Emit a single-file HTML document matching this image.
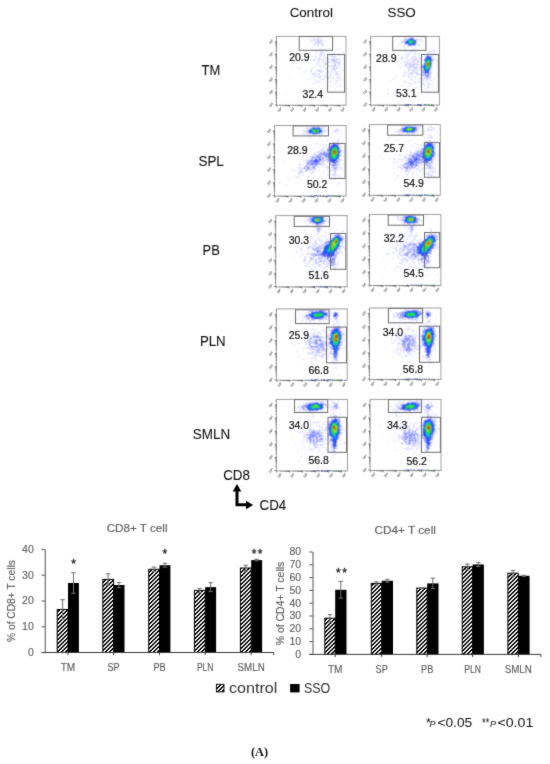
<!DOCTYPE html>
<html><head><meta charset="utf-8"><style>
html,body{margin:0;padding:0;background:#fff;}
body{width:550px;height:764px;overflow:hidden;position:relative;}
svg{position:absolute;left:0;top:0;}
text{font-family:"Liberation Sans",sans-serif;}
.pct{font-size:10.3px;fill:#111;stroke:#111;stroke-width:0.18px;}
.hdr{font-size:13.4px;fill:#111;stroke:#111;stroke-width:0.08px;}
.rl{font-size:14px;fill:#111;stroke:#111;stroke-width:0.08px;}
.tl{font-size:10.5px;fill:#5a5a5a;stroke:#5a5a5a;stroke-width:0.12px;}
.xl{font-size:10px;fill:#5a5a5a;stroke:#5a5a5a;stroke-width:0.12px;}
.star{font-size:12px;fill:#222;stroke:#222;stroke-width:0.3px;}
.ttl{font-size:10.4px;fill:#5a5a5a;stroke:#5a5a5a;stroke-width:0.12px;}
.yl{font-size:10.2px;fill:#5a5a5a;stroke:#5a5a5a;stroke-width:0.12px;}
.leg{font-size:14.5px;fill:#333;}
.pv{font-size:12.4px;fill:#111;}
.fa{font-family:"Liberation Serif",serif;font-size:13.3px;font-weight:bold;fill:#151515;}
</style></head><body>
<svg width="550" height="764" viewBox="0 0 550 764">
<defs>
<filter id="gb" x="0" y="0" width="550" height="764" filterUnits="userSpaceOnUse" color-interpolation-filters="sRGB"><feConvolveMatrix order="3" kernelMatrix="0.15 0.6 0.15 0.6 5.5 0.6 0.15 0.6 0.15" edgeMode="duplicate"/></filter>
<filter id="bl" x="-5%" y="-5%" width="110%" height="110%" color-interpolation-filters="sRGB"><feConvolveMatrix order="3" kernelMatrix="0.3 1 0.3 1 3 1 0.3 1 0.3" edgeMode="none"/></filter>
<pattern id="hatch" patternUnits="userSpaceOnUse" x="0" y="0" width="4" height="4">
<rect width="4" height="4" fill="#fff"/><path d="M0 4L4 0V2L2 4ZM0 0V2L2 0Z" fill="#000" shape-rendering="crispEdges"/></pattern>
</defs>
<g filter="url(#gb)">
<rect width="550" height="764" fill="#fff"/>
<text x="289.7" y="16.8" class="hdr" textLength="43.2" lengthAdjust="spacingAndGlyphs">Control</text>
<text x="387.5" y="16.8" class="hdr" textLength="28.3" lengthAdjust="spacingAndGlyphs">SSO</text>
<text x="201.6" y="74.6" class="rl" textLength="18.7" lengthAdjust="spacingAndGlyphs">TM</text>
<text x="198.5" y="166.4" class="rl" textLength="25.3" lengthAdjust="spacingAndGlyphs">SPL</text>
<text x="202.6" y="255.1" class="rl" textLength="17.3" lengthAdjust="spacingAndGlyphs">PB</text>
<text x="199.9" y="345.7" class="rl" textLength="25.8" lengthAdjust="spacingAndGlyphs">PLN</text>
<text x="192.8" y="439.2" class="rl" textLength="37.3" lengthAdjust="spacingAndGlyphs">SMLN</text>
<g filter="url(#bl)">
<path transform="translate(0 .5)" stroke="rgb(125,130,250)" stroke-opacity="0.36000000000000004" stroke-width="1" d="M309 37h1M317 37h3M321 37h1M307 38h1M313 38h2M318 38h1M320 38h1M313 39h2M310 40h3M314 40h1M321 40h2M321 41h1M325 41h1M312 42h1M319 42h1M321 42h1M316 43h5M322 43h1M329 43h1M313 44h3M317 44h1M321 44h2M318 45h1M321 45h1M323 45h1M316 46h1M318 46h1M312 47h1M320 48h1M339 48h1M319 49h1M321 49h1M325 49h1M336 49h1M315 50h2M320 51h2M316 52h2M321 52h1M323 52h1M343 52h1M322 53h2M329 53h1M334 53h1M338 53h1M320 54h2M324 54h1M332 54h1M334 54h1M342 54h1M315 55h1M319 55h2M322 55h1M324 55h1M330 55h3M339 55h1M312 56h1M315 56h1M320 56h1M323 56h1M331 56h1M333 56h3M300 57h1M316 57h1M319 57h1M325 57h1M332 57h4M318 58h1M320 58h1M325 58h2M328 58h2M336 58h1M340 58h1M301 59h1M313 59h1M315 59h1M318 59h2M321 59h1M323 59h1M330 59h2M338 59h2M343 59h1M310 60h1M313 60h2M318 60h1M322 60h2M325 60h1M328 60h1M339 60h1M294 61h1M306 61h1M310 61h1M317 61h1M319 61h1M324 61h1M328 61h1M330 61h1M319 62h1M322 62h1M325 62h1M328 62h2M337 62h1M339 62h2M307 63h1M317 63h1M324 63h4M339 63h1M343 63h1M292 64h1M300 64h1M317 64h1M324 64h1M339 64h1M319 65h1M331 65h1M316 66h1M324 66h1M329 66h1M338 66h2M312 67h1M320 67h1M327 67h1M341 67h1M298 68h1M300 68h1M321 68h1M325 68h1M338 68h1M306 69h1M311 69h1M343 69h1M310 70h2M316 70h2M319 70h1M322 70h1M327 70h1M331 70h1M304 71h1M311 71h1M321 71h2M328 71h1M339 71h1M342 71h1M315 72h1M328 72h1M331 72h2M335 72h2M301 73h1M311 73h2M314 73h2M318 73h1M325 73h2M330 73h1M336 73h2M313 74h2M318 74h2M330 74h1M334 74h5M315 75h1M318 75h2M322 75h1M326 75h1M330 75h1M339 75h1M314 76h1M316 76h1M320 76h1M324 76h3M336 76h1M310 77h1M313 77h1M318 77h3M327 77h3M337 77h2M340 77h1M290 78h1M323 78h1M327 78h2M332 78h2M338 78h2M308 79h1M314 79h1M320 79h1M322 79h1M324 79h1M341 79h1M314 80h1M319 80h1M330 80h1M336 80h2M339 80h1M316 81h2M324 81h1M329 81h1M334 81h1M336 81h1M316 82h1M319 82h1M330 82h1M344 82h1M314 83h1M319 83h1M325 83h1M335 83h1M338 83h1M313 84h1M335 84h1M307 85h1M340 85h1M330 86h1M337 86h1M342 86h1M315 88h1M335 89h1M320 91h1M318 92h1M285 94h1M329 98h1M312 104h1"/>
<path transform="translate(0 .5)" stroke="rgb(125,130,250)" stroke-opacity="0.63" stroke-width="1" d="M316 39h1M318 39h1M317 40h2M320 40h1M315 41h1M317 41h1M319 41h1M315 42h1M318 42h1M320 53h1M332 59h3M336 59h1M332 60h3M336 60h1M333 61h1M335 61h1M332 62h1M335 62h2M338 62h1M334 63h1M338 63h1M325 64h1M335 64h1M320 65h1M328 65h1M333 65h3M337 65h1M323 66h1M330 66h1M334 66h1M332 67h2M336 67h1M326 68h1M334 68h1M336 68h1M331 69h1M333 69h2M318 70h1M334 70h1M319 71h2M326 71h1M336 71h1"/>
</g>
<rect x="276.5" y="36.4" width="69.5" height="68.8" fill="none" stroke="#a0a0a0" stroke-width="1"/>
<rect x="299.2" y="36.5" width="33.4" height="13.8" fill="none" stroke="#707070" stroke-width="1"/>
<rect x="327.6" y="54.5" width="17.0" height="37.7" fill="none" stroke="#707070" stroke-width="1"/>
<path d="M274.7 104.8h1.8M275.6 101.0h0.9M275.6 98.7h0.9M275.6 97.2h0.9M275.6 96.0h0.9M275.6 95.1h0.9M275.6 94.3h0.9M275.6 93.7h0.9M275.6 93.2h0.9M275.6 92.7h0.9M274.7 92.2h1.8M275.6 88.4h0.9M275.6 86.1h0.9M275.6 84.6h0.9M275.6 83.3h0.9M275.6 82.5h0.9M275.6 81.7h0.9M275.6 81.1h0.9M275.6 80.6h0.9M275.6 80.1h0.9M274.7 79.6h1.8M275.6 75.8h0.9M275.6 73.5h0.9M275.6 72.0h0.9M275.6 70.7h0.9M275.6 69.8h0.9M275.6 69.1h0.9M275.6 68.4h0.9M275.6 67.9h0.9M275.6 67.4h0.9M274.7 66.9h1.8M275.6 63.1h0.9M275.6 60.9h0.9M275.6 59.4h0.9M275.6 58.1h0.9M275.6 57.2h0.9M275.6 56.4h0.9M275.6 55.8h0.9M275.6 55.3h0.9M275.6 54.8h0.9M274.7 54.3h1.8M275.6 50.5h0.9M275.6 48.2h0.9M275.6 46.7h0.9M275.6 45.5h0.9M275.6 44.6h0.9M275.6 43.8h0.9M275.6 43.2h0.9M275.6 42.7h0.9M275.6 42.2h0.9M274.7 41.7h1.8M275.6 37.9h0.9M276.8 105.2v1.8M280.6 105.2v0.9M282.9 105.2v0.9M284.4 105.2v0.9M285.6 105.2v0.9M286.5 105.2v0.9M287.3 105.2v0.9M287.9 105.2v0.9M288.4 105.2v0.9M288.9 105.2v0.9M289.4 105.2v1.8M293.2 105.2v0.9M295.5 105.2v0.9M297.0 105.2v0.9M298.2 105.2v0.9M299.1 105.2v0.9M299.9 105.2v0.9M300.5 105.2v0.9M301.0 105.2v0.9M301.5 105.2v0.9M302.0 105.2v1.8M305.8 105.2v0.9M308.1 105.2v0.9M309.6 105.2v0.9M310.9 105.2v0.9M311.7 105.2v0.9M312.5 105.2v0.9M313.1 105.2v0.9M313.6 105.2v0.9M314.1 105.2v0.9M314.6 105.2v1.8M318.4 105.2v0.9M320.7 105.2v0.9M322.2 105.2v0.9M323.5 105.2v0.9M324.4 105.2v0.9M325.1 105.2v0.9M325.7 105.2v0.9M326.2 105.2v0.9M326.8 105.2v0.9M327.3 105.2v1.8M331.0 105.2v0.9M333.3 105.2v0.9M334.8 105.2v0.9M336.1 105.2v0.9M337.0 105.2v0.9M337.7 105.2v0.9M338.4 105.2v0.9M338.9 105.2v0.9M339.4 105.2v0.9M339.9 105.2v1.8M343.7 105.2v0.9" stroke="#444" stroke-width="0.6" fill="none"/>
<g font-size="3.3" fill="#444" font-weight="bold" font-family="Liberation Sans, sans-serif"><text x="271.2" y="106.0" text-anchor="middle" transform="rotate(-45 271.2 105.0)">10<tspan dy="-1" font-size="2.2">0</tspan></text><text x="279.8" y="110.8" text-anchor="middle" transform="rotate(-45 279.8 109.8)">10<tspan dy="-1" font-size="2.2">0</tspan></text><text x="271.2" y="93.4" text-anchor="middle" transform="rotate(-45 271.2 92.4)">10<tspan dy="-1" font-size="2.2">1</tspan></text><text x="292.4" y="110.8" text-anchor="middle" transform="rotate(-45 292.4 109.8)">10<tspan dy="-1" font-size="2.2">1</tspan></text><text x="271.2" y="80.8" text-anchor="middle" transform="rotate(-45 271.2 79.8)">10<tspan dy="-1" font-size="2.2">2</tspan></text><text x="305.0" y="110.8" text-anchor="middle" transform="rotate(-45 305.0 109.8)">10<tspan dy="-1" font-size="2.2">2</tspan></text><text x="271.2" y="68.1" text-anchor="middle" transform="rotate(-45 271.2 67.1)">10<tspan dy="-1" font-size="2.2">3</tspan></text><text x="317.6" y="110.8" text-anchor="middle" transform="rotate(-45 317.6 109.8)">10<tspan dy="-1" font-size="2.2">3</tspan></text><text x="271.2" y="55.5" text-anchor="middle" transform="rotate(-45 271.2 54.5)">10<tspan dy="-1" font-size="2.2">4</tspan></text><text x="330.3" y="110.8" text-anchor="middle" transform="rotate(-45 330.3 109.8)">10<tspan dy="-1" font-size="2.2">4</tspan></text><text x="271.2" y="42.9" text-anchor="middle" transform="rotate(-45 271.2 41.9)">10<tspan dy="-1" font-size="2.2">5</tspan></text><text x="342.9" y="110.8" text-anchor="middle" transform="rotate(-45 342.9 109.8)">10<tspan dy="-1" font-size="2.2">5</tspan></text></g>
<text x="289.2" y="61.0" class="pct" textLength="20.4" lengthAdjust="spacingAndGlyphs">20.9</text>
<text x="302.6" y="97.9" class="pct" textLength="20.4" lengthAdjust="spacingAndGlyphs">32.4</text>
<g filter="url(#bl)">
<path transform="translate(0 .5)" stroke="rgb(125,125,255)" stroke-opacity="0.4" stroke-width="1" d="M405 37h1M408 37h5M404 38h3M420 38h1M404 39h1M417 39h2M421 39h1M401 40h1M420 40h1M402 41h2M421 41h2M402 42h2M418 42h1M399 44h1M401 44h1M404 44h1M416 44h1M418 44h1M418 45h2M426 45h1M397 46h1M403 46h2M408 46h1M404 47h1M415 47h1M406 48h1M415 48h1M404 49h1M412 49h2M426 49h1M405 50h1M413 50h1M415 50h1M434 50h1M410 51h2M413 51h2M416 51h1M425 51h1M429 51h2M432 51h2M395 52h1M405 52h1M408 52h1M411 52h1M428 52h1M405 53h1M408 53h1M414 53h2M419 53h1M427 53h3M434 53h1M407 54h1M418 54h1M421 54h1M431 54h1M433 54h1M404 55h1M408 55h2M414 55h1M418 55h1M424 55h1M432 55h1M435 55h1M401 56h1M407 56h1M412 56h1M415 56h1M423 56h1M433 56h1M373 57h1M401 57h1M404 57h1M406 57h1M412 57h2M415 57h1M418 57h2M387 58h1M401 58h2M407 58h1M411 58h1M414 58h1M416 58h1M420 58h1M433 58h2M401 59h1M405 59h1M408 59h1M411 59h1M413 59h4M418 59h1M420 59h1M432 59h1M434 59h1M406 60h1M410 60h1M413 60h2M416 60h1M418 60h1M433 60h1M436 60h1M381 61h1M402 61h1M404 61h1M407 61h1M409 61h1M412 61h2M417 61h2M398 62h1M404 62h1M406 62h1M408 62h1M411 62h2M414 62h1M417 62h1M419 62h2M432 62h1M383 63h1M400 63h1M406 63h2M409 63h2M413 63h3M417 63h1M405 64h3M409 64h6M416 64h3M420 64h1M402 65h1M405 65h2M409 65h6M417 65h1M420 65h1M399 66h1M404 66h1M406 66h1M408 66h1M410 66h2M413 66h1M416 66h2M400 67h1M407 67h3M411 67h1M413 67h1M415 67h2M419 67h3M408 68h1M410 68h1M414 68h3M419 68h1M421 68h1M408 69h2M412 69h1M416 69h1M418 69h1M420 69h1M409 70h1M412 70h5M418 70h1M406 71h1M408 71h1M413 71h1M404 72h1M410 72h4M415 72h3M431 72h1M404 73h2M409 73h1M411 73h1M414 73h1M416 73h2M422 73h1M430 73h1M408 74h2M411 74h2M416 74h1M418 74h5M430 74h1M396 75h1M403 75h1M405 75h1M409 75h1M418 75h1M422 75h2M429 75h1M403 76h1M408 76h1M412 76h1M414 76h1M422 76h1M429 76h3M408 77h1M410 77h1M415 77h1M429 77h2M394 78h1M411 78h1M419 78h1M421 78h2M424 78h1M426 78h1M429 78h1M410 79h1M412 79h1M415 79h1M419 79h1M422 79h1M424 79h1M427 79h1M429 79h1M431 79h1M434 79h1M391 80h1M412 80h1M421 80h1M423 80h1M426 80h1M430 80h1M404 81h1M418 81h2M433 81h1M407 82h1M414 82h3M420 82h1M423 82h1M426 82h1M428 82h1M398 83h1M404 83h1M409 83h2M423 83h1M428 83h1M411 84h1M414 84h1M421 84h1M423 84h1M428 84h2M431 84h1M433 84h1M402 85h1M421 85h1M424 85h1M427 85h1M396 86h1M408 86h1M410 86h1M420 86h1M429 86h1M415 87h1M417 87h1M427 87h2M424 88h1M427 88h1M375 89h1M387 89h1M429 90h1M411 91h1M418 92h1M426 92h1M387 93h2M395 95h1M415 95h1M429 101h1"/>
<path transform="translate(0 .5)" stroke="rgb(85,100,255)" stroke-opacity="0.7" stroke-width="1" d="M410 38h1M412 38h2M406 39h1M416 39h1M404 40h2M416 41h1M404 42h1M405 43h1M415 43h1M405 44h1M414 44h2M408 45h4M413 45h2M427 55h2M426 56h1M429 56h3M425 57h2M425 58h1M431 58h1M424 59h1M424 60h1M431 60h2M431 61h1M431 64h1M422 65h2M422 66h2M431 66h1M414 67h1M422 67h1M430 67h1M423 68h1M431 68h1M422 70h2M430 70h1M423 71h1M422 72h3M430 72h1M424 73h1M427 73h3M423 74h1M425 74h1M427 74h2M424 75h5M426 76h3M425 77h1M427 77h1M427 78h1"/>
<path transform="translate(0 .5)" stroke="rgb(40,65,255)" stroke-opacity="0.95" stroke-width="1" d="M411 38h1M408 39h5M407 40h1M414 40h2M406 41h1M414 41h2M405 42h3M414 42h2M406 43h1M414 43h1M408 44h1M410 44h4M427 56h2M427 57h4M426 58h2M430 58h1M425 59h2M430 59h2M425 60h1M425 61h1M430 61h1M424 63h1M431 63h1M424 65h1M430 65h1M430 66h1M423 67h1M424 68h1M429 68h1M424 69h1M429 69h1M424 70h1M425 71h2M428 71h1M425 72h4M425 73h1"/>
<path transform="translate(0 .5)" stroke="rgb(20,90,255)" stroke-opacity="1" stroke-width="1" d="M413 39h1M413 40h1M407 41h1M408 42h1M407 43h1M412 43h2M409 44h1M428 58h2M429 59h1M426 60h1M430 60h1M430 62h1M430 63h1M424 64h1M430 64h1M424 66h1M424 67h1M425 69h1M428 69h1M425 70h1M427 70h2M427 71h1"/>
<path transform="translate(0 .5)" stroke="rgb(0,185,240)" stroke-opacity="1" stroke-width="1" d="M408 40h2M411 40h2M408 41h1M413 42h1M408 43h1M410 43h2M428 59h1M427 60h1M429 60h1M425 62h1M425 63h1M425 65h1M425 66h2M425 67h1M429 67h1M425 68h1M428 68h1M426 70h1"/>
<path transform="translate(0 .5)" stroke="rgb(30,225,70)" stroke-opacity="1" stroke-width="1" d="M410 40h1M409 41h5M409 42h4M409 43h1M427 59h1M428 60h1M426 61h4M426 62h1M429 62h1M426 63h1M429 63h1M425 64h1M429 64h1M426 65h1M428 65h2M428 66h2M426 67h3M426 68h2M426 69h2"/>
<path transform="translate(0 .5)" stroke="rgb(190,235,20)" stroke-opacity="1" stroke-width="1" d="M427 62h2M426 64h1"/>
<path transform="translate(0 .5)" stroke="rgb(255,170,0)" stroke-opacity="1" stroke-width="1" d="M428 64h1M427 66h1"/>
<path transform="translate(0 .5)" stroke="rgb(240,40,20)" stroke-opacity="1" stroke-width="1" d="M427 63h2M427 64h1M427 65h1"/>
</g>
<path stroke="rgb(40,65,255)" stroke-width="1" d="M405 104.7h1M406 104.7h1M407 104.7h1M408 104.7h1M409 104.7h1M410 104.7h1M417 104.7h1M418 104.7h1M419 104.7h1M420 104.7h1M421 104.7h1M424 104.7h1"/>
<path stroke="rgb(20,90,255)" stroke-width="1" d="M425 104.7h1"/>
<path stroke="rgb(30,225,70)" stroke-width="1" d="M426 104.7h1M427 104.7h1M428 104.7h1M431 104.7h1M432 104.7h1"/>
<path stroke="rgb(190,235,20)" stroke-width="1" d="M429 104.7h1"/>
<rect x="370.7" y="36.4" width="68.7" height="68.6" fill="none" stroke="#a0a0a0" stroke-width="1"/>
<rect x="392.7" y="36.4" width="33.2" height="14.0" fill="none" stroke="#707070" stroke-width="1"/>
<rect x="421.5" y="54.5" width="16.9" height="37.7" fill="none" stroke="#707070" stroke-width="1"/>
<path d="M368.9 104.6h1.8M369.8 100.8h0.9M369.8 98.6h0.9M369.8 97.0h0.9M369.8 95.8h0.9M369.8 94.9h0.9M369.8 94.2h0.9M369.8 93.5h0.9M369.8 93.0h0.9M369.8 92.5h0.9M368.9 92.0h1.8M369.8 88.2h0.9M369.8 86.0h0.9M369.8 84.5h0.9M369.8 83.2h0.9M369.8 82.3h0.9M369.8 81.6h0.9M369.8 80.9h0.9M369.8 80.4h0.9M369.8 79.9h0.9M368.9 79.4h1.8M369.8 75.6h0.9M369.8 73.4h0.9M369.8 71.9h0.9M369.8 70.6h0.9M369.8 69.7h0.9M369.8 69.0h0.9M369.8 68.3h0.9M369.8 67.8h0.9M369.8 67.3h0.9M368.9 66.8h1.8M369.8 63.1h0.9M369.8 60.8h0.9M369.8 59.3h0.9M369.8 58.0h0.9M369.8 57.1h0.9M369.8 56.4h0.9M369.8 55.8h0.9M369.8 55.3h0.9M369.8 54.8h0.9M368.9 54.2h1.8M369.8 50.5h0.9M369.8 48.2h0.9M369.8 46.7h0.9M369.8 45.4h0.9M369.8 44.6h0.9M369.8 43.8h0.9M369.8 43.2h0.9M369.8 42.7h0.9M369.8 42.2h0.9M368.9 41.7h1.8M369.8 37.9h0.9M371.0 105.0v1.8M374.7 105.0v0.9M377.0 105.0v0.9M378.5 105.0v0.9M379.7 105.0v0.9M380.6 105.0v0.9M381.3 105.0v0.9M382.0 105.0v0.9M382.5 105.0v0.9M383.0 105.0v0.9M383.5 105.0v1.8M387.2 105.0v0.9M389.5 105.0v0.9M391.0 105.0v0.9M392.2 105.0v0.9M393.1 105.0v0.9M393.8 105.0v0.9M394.4 105.0v0.9M394.9 105.0v0.9M395.4 105.0v0.9M395.9 105.0v1.8M399.7 105.0v0.9M401.9 105.0v0.9M403.4 105.0v0.9M404.7 105.0v0.9M405.5 105.0v0.9M406.3 105.0v0.9M406.9 105.0v0.9M407.4 105.0v0.9M407.9 105.0v0.9M408.4 105.0v1.8M412.1 105.0v0.9M414.4 105.0v0.9M415.9 105.0v0.9M417.1 105.0v0.9M418.0 105.0v0.9M418.8 105.0v0.9M419.4 105.0v0.9M419.9 105.0v0.9M420.4 105.0v0.9M420.9 105.0v1.8M424.6 105.0v0.9M426.9 105.0v0.9M428.4 105.0v0.9M429.6 105.0v0.9M430.5 105.0v0.9M431.2 105.0v0.9M431.8 105.0v0.9M432.3 105.0v0.9M432.8 105.0v0.9M433.3 105.0v1.8M437.1 105.0v0.9" stroke="#444" stroke-width="0.6" fill="none"/>
<g font-size="3.3" fill="#444" font-weight="bold" font-family="Liberation Sans, sans-serif"><text x="365.4" y="105.8" text-anchor="middle" transform="rotate(-45 365.4 104.8)">10<tspan dy="-1" font-size="2.2">0</tspan></text><text x="374.0" y="110.6" text-anchor="middle" transform="rotate(-45 374.0 109.6)">10<tspan dy="-1" font-size="2.2">0</tspan></text><text x="365.4" y="93.2" text-anchor="middle" transform="rotate(-45 365.4 92.2)">10<tspan dy="-1" font-size="2.2">1</tspan></text><text x="386.5" y="110.6" text-anchor="middle" transform="rotate(-45 386.5 109.6)">10<tspan dy="-1" font-size="2.2">1</tspan></text><text x="365.4" y="80.6" text-anchor="middle" transform="rotate(-45 365.4 79.6)">10<tspan dy="-1" font-size="2.2">2</tspan></text><text x="398.9" y="110.6" text-anchor="middle" transform="rotate(-45 398.9 109.6)">10<tspan dy="-1" font-size="2.2">2</tspan></text><text x="365.4" y="68.0" text-anchor="middle" transform="rotate(-45 365.4 67.0)">10<tspan dy="-1" font-size="2.2">3</tspan></text><text x="411.4" y="110.6" text-anchor="middle" transform="rotate(-45 411.4 109.6)">10<tspan dy="-1" font-size="2.2">3</tspan></text><text x="365.4" y="55.4" text-anchor="middle" transform="rotate(-45 365.4 54.4)">10<tspan dy="-1" font-size="2.2">4</tspan></text><text x="423.9" y="110.6" text-anchor="middle" transform="rotate(-45 423.9 109.6)">10<tspan dy="-1" font-size="2.2">4</tspan></text><text x="365.4" y="42.9" text-anchor="middle" transform="rotate(-45 365.4 41.9)">10<tspan dy="-1" font-size="2.2">5</tspan></text><text x="436.3" y="110.6" text-anchor="middle" transform="rotate(-45 436.3 109.6)">10<tspan dy="-1" font-size="2.2">5</tspan></text></g>
<text x="376.1" y="61.6" class="pct" textLength="20.4" lengthAdjust="spacingAndGlyphs">28.9</text>
<text x="396.1" y="96.6" class="pct" textLength="20.4" lengthAdjust="spacingAndGlyphs">53.1</text>
<g filter="url(#bl)">
<path transform="translate(0 .5)" stroke="rgb(125,125,255)" stroke-opacity="0.4" stroke-width="1" d="M312 126h2M316 126h3M323 126h1M306 127h1M308 127h1M310 127h1M321 127h2M324 127h1M307 128h2M324 128h1M337 128h1M302 129h1M306 129h2M325 129h1M327 129h1M336 129h2M305 130h1M307 130h1M328 130h1M335 130h3M303 131h2M306 131h1M324 131h1M326 131h1M333 131h3M338 131h1M340 131h1M299 132h1M306 132h1M325 132h1M336 132h1M302 133h2M305 133h1M338 133h1M306 134h1M308 134h1M311 134h1M319 134h4M341 134h1M304 135h1M306 135h1M309 135h1M313 135h2M325 136h1M294 137h1M309 137h1M339 137h1M300 138h1M319 138h1M333 139h1M338 139h1M327 140h1M336 140h1M338 140h1M333 141h1M338 141h1M329 142h1M316 143h1M331 143h1M340 143h1M318 144h1M320 144h1M324 144h1M328 144h1M341 144h1M323 145h1M326 145h1M306 146h1M315 146h1M328 146h1M341 146h1M302 147h1M319 147h1M323 147h1M326 147h1M328 147h1M341 147h1M304 148h1M313 148h1M323 148h1M321 149h1M323 149h1M343 149h1M277 150h1M300 150h1M320 150h3M325 150h1M342 150h1M345 150h1M310 151h1M318 151h2M322 151h1M341 151h1M314 152h1M316 152h2M343 152h1M315 153h1M322 153h1M341 153h1M313 154h2M304 155h1M310 155h1M311 156h2M343 156h1M306 157h1M310 157h1M293 158h1M301 159h1M307 159h1M341 159h1M303 160h1M305 160h2M324 160h1M339 160h1M342 160h1M284 161h1M307 161h2M304 162h1M306 162h1M323 162h1M327 162h1M300 163h1M322 163h2M339 163h1M299 164h1M302 164h1M320 164h2M323 164h2M326 164h1M339 164h1M342 164h1M299 165h1M322 165h1M336 165h1M338 165h1M318 166h1M321 166h1M327 166h1M331 166h1M336 166h1M340 166h1M297 167h1M299 167h2M302 167h1M318 167h1M323 167h1M325 167h1M327 167h2M331 167h3M335 167h1M337 167h1M340 167h1M301 168h1M303 168h1M312 168h4M327 168h1M336 168h1M338 168h1M341 168h1M292 169h1M294 169h1M299 169h3M305 169h2M312 169h1M314 169h2M332 169h3M336 169h1M342 169h1M301 170h1M307 170h1M309 170h1M318 170h1M324 170h1M327 170h1M330 170h2M334 170h1M339 170h1M295 171h1M298 171h5M305 171h2M312 171h2M333 171h1M335 171h1M299 172h1M301 172h1M303 172h1M312 172h1M314 172h1M334 172h2M298 173h3M310 173h2M323 173h1M335 173h1M340 173h1M303 174h1M327 174h1M331 174h4M336 174h1M299 175h1M302 175h1M308 175h1M334 175h2M337 175h1M294 176h1M298 176h1M329 176h1M333 176h1M335 176h1M339 176h1M341 176h1M296 177h2M309 177h1M329 177h1M339 177h1M288 178h1M322 178h1M331 178h1M334 178h2M300 179h1M307 179h1M334 179h1M280 181h1M311 181h1M338 183h2M285 184h1M336 184h1M326 186h1"/>
<path transform="translate(0 .5)" stroke="rgb(85,100,255)" stroke-opacity="0.7" stroke-width="1" d="M312 127h4M317 127h3M310 128h1M321 128h1M308 130h1M323 130h1M308 131h1M307 132h1M320 132h3M309 133h2M317 133h3M313 134h1M316 134h1M333 142h1M337 142h1M333 143h1M335 143h3M331 144h1M337 144h2M330 145h2M338 145h1M329 146h1M329 147h2M339 147h1M328 148h1M327 149h2M339 149h2M327 150h2M340 150h1M324 151h1M327 151h2M340 151h1M321 152h1M323 152h2M326 152h1M318 153h1M320 153h2M323 153h5M339 153h1M319 154h10M315 155h1M317 155h3M323 155h6M340 155h1M313 156h1M316 156h3M321 156h1M325 156h4M312 157h3M316 157h3M322 157h2M325 157h2M338 157h1M311 158h1M313 158h1M315 158h2M319 158h1M322 158h2M328 158h1M338 158h1M311 159h2M316 159h3M320 159h2M323 159h1M326 159h3M338 159h2M308 160h6M318 160h3M322 160h1M325 160h1M328 160h1M310 161h4M317 161h3M321 161h1M323 161h1M327 161h1M330 161h1M336 161h3M307 162h5M316 162h1M319 162h1M330 162h1M336 162h2M306 163h1M308 163h2M311 163h1M313 163h6M320 163h1M334 163h2M307 164h2M310 164h2M314 164h4M319 164h1M330 164h8M306 165h1M309 165h1M311 165h1M313 165h1M315 165h2M332 165h4M305 166h3M310 166h1M313 166h2M333 166h1M304 167h1M307 167h3M312 167h3M334 167h1M336 167h1M304 168h2M307 168h3M334 168h2M307 169h1M309 169h1M311 169h1M306 170h1M335 170h1"/>
<path transform="translate(0 .5)" stroke="rgb(40,65,255)" stroke-opacity="0.95" stroke-width="1" d="M312 128h3M317 128h3M310 129h1M320 129h1M309 130h1M320 130h2M309 131h1M320 131h2M309 132h2M319 132h1M312 133h5M334 143h1M333 144h3M332 145h6M331 146h3M337 146h1M331 147h3M337 147h2M330 148h2M338 148h1M329 149h2M338 149h1M329 150h2M338 150h1M338 151h2M329 152h1M338 152h2M328 153h2M338 153h1M329 154h1M338 154h1M329 155h2M338 155h2M320 156h1M329 156h1M338 156h1M319 157h1M328 157h2M320 158h1M330 158h1M337 158h1M315 159h1M319 159h1M330 159h2M335 159h2M314 160h4M330 160h4M335 160h2M314 161h3M331 161h4M313 162h1M315 162h1M317 162h1M332 162h4M312 163h1M312 164h1"/>
<path transform="translate(0 .5)" stroke="rgb(20,90,255)" stroke-opacity="1" stroke-width="1" d="M315 128h2M311 129h1M315 129h1M319 129h1M310 130h1M310 131h2M319 131h1M311 132h1M318 132h1M334 146h3M337 148h1M331 149h1M330 151h1M330 152h1M330 153h1M330 154h1M337 155h1M337 156h1M330 157h1M337 157h1M331 158h1M336 158h1M332 159h3M334 160h1"/>
<path transform="translate(0 .5)" stroke="rgb(0,185,240)" stroke-opacity="1" stroke-width="1" d="M312 129h1M317 129h2M319 130h1M312 131h1M312 132h2M316 132h2M336 147h1M331 150h1M337 150h1M331 153h1M337 154h1M330 156h1M332 156h1M336 156h1M331 157h1M333 157h1M336 157h1M332 158h1M334 158h2"/>
<path transform="translate(0 .5)" stroke="rgb(30,225,70)" stroke-opacity="1" stroke-width="1" d="M313 129h2M316 129h1M311 130h4M317 130h2M313 131h3M317 131h2M314 132h2M334 147h2M332 148h5M332 149h6M332 150h1M335 150h2M331 151h2M337 151h1M331 152h2M336 152h2M332 153h1M336 153h2M331 154h1M333 154h1M336 154h1M331 155h2M334 155h3M331 156h1M333 156h3M332 157h1M334 157h2M333 158h1"/>
<path transform="translate(0 .5)" stroke="rgb(190,235,20)" stroke-opacity="1" stroke-width="1" d="M315 130h1M333 150h1M333 152h1M332 154h1M334 154h2M333 155h1"/>
<path transform="translate(0 .5)" stroke="rgb(255,170,0)" stroke-opacity="1" stroke-width="1" d="M336 151h1M335 152h1"/>
<path transform="translate(0 .5)" stroke="rgb(240,40,20)" stroke-opacity="1" stroke-width="1" d="M316 130h1M316 131h1M334 150h1M333 151h3M334 152h1M333 153h3"/>
</g>
<path stroke="rgb(40,65,255)" stroke-width="1" d="M311 195.7h1M314 195.7h1M315 195.7h1M316 195.7h1M318 195.7h1M320 195.7h1M323 195.7h1M327 195.7h1M328 195.7h1M329 195.7h1"/>
<path stroke="rgb(20,90,255)" stroke-width="1" d="M331 195.7h1M340 195.7h1"/>
<path stroke="rgb(0,185,240)" stroke-width="1" d="M332 195.7h1M339 195.7h1"/>
<path stroke="rgb(30,225,70)" stroke-width="1" d="M333 195.7h1M334 195.7h1M336 195.7h1"/>
<path stroke="rgb(190,235,20)" stroke-width="1" d="M335 195.7h1"/>
<rect x="274.6" y="125.5" width="71.5" height="70.5" fill="none" stroke="#a0a0a0" stroke-width="1"/>
<rect x="293.1" y="125.9" width="35.4" height="10.0" fill="none" stroke="#707070" stroke-width="1"/>
<rect x="329.5" y="143.5" width="15.6" height="35.0" fill="none" stroke="#707070" stroke-width="1"/>
<path d="M272.8 195.6h1.8M273.7 191.7h0.9M273.7 189.4h0.9M273.7 187.8h0.9M273.7 186.5h0.9M273.7 185.6h0.9M273.7 184.9h0.9M273.7 184.2h0.9M273.7 183.7h0.9M273.7 183.2h0.9M272.8 182.7h1.8M273.7 178.8h0.9M273.7 176.5h0.9M273.7 174.9h0.9M273.7 173.6h0.9M273.7 172.7h0.9M273.7 171.9h0.9M273.7 171.3h0.9M273.7 170.8h0.9M273.7 170.2h0.9M272.8 169.7h1.8M273.7 165.8h0.9M273.7 163.5h0.9M273.7 162.0h0.9M273.7 160.7h0.9M273.7 159.8h0.9M273.7 159.0h0.9M273.7 158.3h0.9M273.7 157.8h0.9M273.7 157.3h0.9M272.8 156.8h1.8M273.7 152.9h0.9M273.7 150.6h0.9M273.7 149.0h0.9M273.7 147.7h0.9M273.7 146.8h0.9M273.7 146.1h0.9M273.7 145.4h0.9M273.7 144.9h0.9M273.7 144.4h0.9M272.8 143.9h1.8M273.7 140.0h0.9M273.7 137.6h0.9M273.7 136.1h0.9M273.7 134.8h0.9M273.7 133.9h0.9M273.7 133.1h0.9M273.7 132.5h0.9M273.7 132.0h0.9M273.7 131.4h0.9M272.8 130.9h1.8M273.7 127.0h0.9M274.9 196.0v1.8M278.8 196.0v0.9M281.1 196.0v0.9M282.7 196.0v0.9M284.0 196.0v0.9M284.9 196.0v0.9M285.7 196.0v0.9M286.3 196.0v0.9M286.8 196.0v0.9M287.4 196.0v0.9M287.9 196.0v1.8M291.8 196.0v0.9M294.1 196.0v0.9M295.7 196.0v0.9M297.0 196.0v0.9M297.9 196.0v0.9M298.6 196.0v0.9M299.3 196.0v0.9M299.8 196.0v0.9M300.3 196.0v0.9M300.9 196.0v1.8M304.7 196.0v0.9M307.1 196.0v0.9M308.6 196.0v0.9M309.9 196.0v0.9M310.8 196.0v0.9M311.6 196.0v0.9M312.3 196.0v0.9M312.8 196.0v0.9M313.3 196.0v0.9M313.8 196.0v1.8M317.7 196.0v0.9M320.1 196.0v0.9M321.6 196.0v0.9M322.9 196.0v0.9M323.8 196.0v0.9M324.6 196.0v0.9M325.3 196.0v0.9M325.8 196.0v0.9M326.3 196.0v0.9M326.8 196.0v1.8M330.7 196.0v0.9M333.0 196.0v0.9M334.6 196.0v0.9M335.9 196.0v0.9M336.8 196.0v0.9M337.6 196.0v0.9M338.2 196.0v0.9M338.7 196.0v0.9M339.3 196.0v0.9M339.8 196.0v1.8M343.7 196.0v0.9" stroke="#444" stroke-width="0.6" fill="none"/>
<g font-size="3.3" fill="#444" font-weight="bold" font-family="Liberation Sans, sans-serif"><text x="269.3" y="196.8" text-anchor="middle" transform="rotate(-45 269.3 195.8)">10<tspan dy="-1" font-size="2.2">0</tspan></text><text x="277.9" y="201.6" text-anchor="middle" transform="rotate(-45 277.9 200.6)">10<tspan dy="-1" font-size="2.2">0</tspan></text><text x="269.3" y="183.9" text-anchor="middle" transform="rotate(-45 269.3 182.9)">10<tspan dy="-1" font-size="2.2">1</tspan></text><text x="290.9" y="201.6" text-anchor="middle" transform="rotate(-45 290.9 200.6)">10<tspan dy="-1" font-size="2.2">1</tspan></text><text x="269.3" y="170.9" text-anchor="middle" transform="rotate(-45 269.3 169.9)">10<tspan dy="-1" font-size="2.2">2</tspan></text><text x="303.9" y="201.6" text-anchor="middle" transform="rotate(-45 303.9 200.6)">10<tspan dy="-1" font-size="2.2">2</tspan></text><text x="269.3" y="158.0" text-anchor="middle" transform="rotate(-45 269.3 157.0)">10<tspan dy="-1" font-size="2.2">3</tspan></text><text x="316.8" y="201.6" text-anchor="middle" transform="rotate(-45 316.8 200.6)">10<tspan dy="-1" font-size="2.2">3</tspan></text><text x="269.3" y="145.1" text-anchor="middle" transform="rotate(-45 269.3 144.1)">10<tspan dy="-1" font-size="2.2">4</tspan></text><text x="329.8" y="201.6" text-anchor="middle" transform="rotate(-45 329.8 200.6)">10<tspan dy="-1" font-size="2.2">4</tspan></text><text x="269.3" y="132.1" text-anchor="middle" transform="rotate(-45 269.3 131.1)">10<tspan dy="-1" font-size="2.2">5</tspan></text><text x="342.8" y="201.6" text-anchor="middle" transform="rotate(-45 342.8 200.6)">10<tspan dy="-1" font-size="2.2">5</tspan></text></g>
<text x="287.2" y="153.8" class="pct" textLength="20.4" lengthAdjust="spacingAndGlyphs">28.9</text>
<text x="306.9" y="188.4" class="pct" textLength="20.4" lengthAdjust="spacingAndGlyphs">50.2</text>
<g filter="url(#bl)">
<path transform="translate(0 .5)" stroke="rgb(125,125,255)" stroke-opacity="0.4" stroke-width="1" d="M401 125h2M404 125h1M408 125h1M412 125h3M428 125h1M403 126h2M416 126h1M418 126h1M420 126h1M430 126h2M418 127h1M420 127h1M428 127h1M431 127h1M434 127h1M418 128h1M420 128h1M432 128h1M434 128h1M398 129h1M400 129h1M417 129h1M427 129h3M432 129h1M399 130h1M418 130h1M428 130h1M430 130h2M433 130h1M395 131h5M416 131h1M424 131h2M437 131h1M398 132h1M400 132h1M414 132h1M416 132h1M422 132h1M401 133h1M407 133h2M412 133h3M430 133h1M398 134h2M401 134h1M409 134h1M411 134h1M402 135h1M405 135h2M428 135h2M430 136h2M389 137h1M424 137h1M428 137h1M430 137h1M432 137h1M431 138h1M427 139h1M387 140h1M395 140h1M398 140h1M410 140h1M424 140h1M428 140h1M435 140h1M407 141h1M426 141h1M428 141h1M432 141h1M415 143h1M424 143h1M423 144h1M411 145h1M423 145h1M388 146h1M414 146h1M418 146h1M421 146h1M397 148h1M416 148h1M419 148h2M421 149h1M435 149h1M417 150h2M435 150h1M410 151h1M414 151h1M416 151h1M410 152h2M414 152h1M436 152h1M410 153h1M414 153h1M399 154h1M406 154h1M408 154h1M411 154h1M436 154h1M438 154h2M396 155h1M400 155h1M403 155h1M408 155h2M405 156h2M379 157h1M402 157h1M405 157h2M434 157h1M437 157h1M383 158h1M389 158h1M394 158h1M404 158h2M407 158h1M435 158h1M393 159h1M395 159h1M398 159h1M400 159h1M402 159h1M403 160h1M433 160h1M436 160h1M401 161h1M393 162h1M395 162h1M397 162h1M401 164h1M420 164h2M432 164h1M435 164h1M400 165h1M402 165h2M418 165h1M424 165h1M431 165h1M398 166h1M416 166h1M419 166h1M427 166h1M432 166h1M398 167h1M400 167h2M414 167h1M420 167h1M427 167h1M432 167h1M393 168h1M401 168h1M403 168h1M405 168h1M413 168h2M417 168h2M422 168h1M425 168h1M427 168h6M434 168h1M401 169h1M406 169h1M410 169h1M415 169h2M419 169h1M422 169h1M430 169h1M434 169h1M404 170h2M407 170h1M409 170h1M411 170h1M419 170h1M431 170h1M401 171h1M405 171h4M419 171h1M422 171h1M429 171h1M433 171h2M394 172h1M404 172h1M409 172h1M413 172h1M416 172h1M428 172h1M430 172h1M432 172h2M437 172h1M412 173h1M424 173h2M427 173h1M406 174h1M408 174h1M412 174h1M427 174h3M431 174h1M397 175h1M407 175h1M417 175h1M428 175h1M430 175h2M433 175h1M397 176h1M430 176h1M398 177h1M433 177h1M428 178h1M395 179h1M414 179h1M419 179h1M425 179h1M429 180h1M400 182h1M408 184h1M417 191h1"/>
<path transform="translate(0 .5)" stroke="rgb(85,100,255)" stroke-opacity="0.7" stroke-width="1" d="M409 125h1M405 126h3M415 126h1M402 127h1M415 127h2M401 128h2M415 128h2M401 129h1M416 129h1M400 130h3M416 130h1M402 131h2M414 131h2M403 132h1M406 132h2M411 132h2M430 140h1M426 142h1M429 142h3M431 143h2M425 144h2M432 144h1M434 144h1M425 145h1M434 145h1M424 146h1M433 146h1M434 147h1M422 148h2M422 149h2M434 149h1M421 150h1M417 151h1M419 151h3M417 152h1M419 152h1M421 152h2M434 152h1M415 153h3M419 153h3M434 153h1M413 154h1M415 154h7M433 154h2M410 155h1M412 155h3M416 155h1M418 155h3M433 155h2M411 156h11M433 156h1M409 157h1M412 157h3M418 157h5M433 157h1M408 158h1M410 158h2M414 158h1M417 158h3M422 158h1M408 159h5M418 159h5M431 159h1M433 159h1M406 160h1M408 160h1M411 160h2M418 160h4M423 160h2M430 160h2M408 161h1M410 161h2M413 161h1M418 161h1M422 161h4M431 161h1M405 162h1M407 162h3M416 162h8M425 162h2M428 162h1M431 162h2M404 163h1M406 163h3M412 163h2M416 163h2M419 163h1M425 163h2M429 163h2M404 164h7M412 164h1M414 164h3M425 164h1M427 164h2M409 165h4M414 165h4M426 165h2M429 165h2M403 166h2M406 166h4M411 166h2M415 166h1M429 166h1M404 167h4M409 167h1M411 167h3M429 167h2M406 168h2M409 168h2M407 169h1"/>
<path transform="translate(0 .5)" stroke="rgb(40,65,255)" stroke-opacity="0.95" stroke-width="1" d="M409 126h1M411 126h1M405 127h2M413 127h2M403 128h3M414 128h1M403 129h1M415 129h1M403 130h1M405 130h1M413 130h2M404 131h2M408 131h1M411 131h3M409 132h1M427 143h4M427 144h5M426 145h3M431 145h2M425 146h2M432 146h1M425 147h1M432 147h2M424 148h1M432 148h2M424 149h1M432 149h1M423 150h2M432 150h2M423 151h1M433 151h1M423 152h1M432 152h2M422 153h2M433 153h1M432 154h1M417 155h1M422 155h2M432 155h1M422 156h2M432 156h1M416 157h1M423 157h2M431 157h1M413 158h1M415 158h2M423 158h3M431 158h1M414 159h4M424 159h2M427 159h4M410 160h1M414 160h3M425 160h5M409 161h1M412 161h1M414 161h1M416 161h1M426 161h2M410 162h4M415 162h1M427 162h1M410 163h2M411 164h1M413 164h1"/>
<path transform="translate(0 .5)" stroke="rgb(20,90,255)" stroke-opacity="1" stroke-width="1" d="M407 127h2M411 127h2M413 128h1M404 129h1M413 129h2M404 130h1M406 130h1M411 130h2M406 131h2M410 131h1M429 145h2M427 146h1M429 146h1M431 146h1M425 148h1M424 151h1M432 151h1M424 152h1M423 154h2M431 154h1M431 155h1M424 156h2M431 156h1M430 157h1M426 158h1M429 158h2M426 159h1"/>
<path transform="translate(0 .5)" stroke="rgb(0,185,240)" stroke-opacity="1" stroke-width="1" d="M409 127h1M405 129h1M409 131h1M428 146h1M430 146h1M426 147h3M431 147h1M426 148h1M431 148h1M425 149h1M425 151h1M431 152h1M424 153h1M424 155h2M428 156h1M430 156h1M425 157h3M429 157h1M427 158h2"/>
<path transform="translate(0 .5)" stroke="rgb(30,225,70)" stroke-opacity="1" stroke-width="1" d="M410 127h1M406 128h2M409 128h1M411 128h2M406 129h2M412 129h1M407 130h4M429 147h2M427 148h4M426 149h1M429 149h3M425 150h2M431 150h1M426 151h2M431 151h1M425 152h1M427 152h1M425 153h2M428 153h1M430 153h2M425 154h1M427 154h1M429 154h2M426 155h2M429 155h2M426 156h2M429 156h1M428 157h1"/>
<path transform="translate(0 .5)" stroke="rgb(190,235,20)" stroke-opacity="1" stroke-width="1" d="M408 128h1M410 128h1M408 129h1M410 129h2M428 149h1M430 150h1M430 151h1M430 152h1M427 153h1M429 153h1M426 154h1M428 154h1M428 155h1"/>
<path transform="translate(0 .5)" stroke="rgb(255,170,0)" stroke-opacity="1" stroke-width="1" d="M409 129h1M427 149h1M429 151h1M426 152h1"/>
<path transform="translate(0 .5)" stroke="rgb(240,40,20)" stroke-opacity="1" stroke-width="1" d="M427 150h3M428 151h1M428 152h2"/>
</g>
<path stroke="rgb(40,65,255)" stroke-width="1" d="M405 195.0h1M406 195.0h1M407 195.0h1M408 195.0h1M409 195.0h1M410 195.0h1M413 195.0h1M416 195.0h1M419 195.0h1M421 195.0h1M422 195.0h1M424 195.0h1"/>
<path stroke="rgb(20,90,255)" stroke-width="1" d="M425 195.0h1"/>
<path stroke="rgb(0,185,240)" stroke-width="1" d="M426 195.0h1M433 195.0h1"/>
<path stroke="rgb(30,225,70)" stroke-width="1" d="M428 195.0h1M431 195.0h1M432 195.0h1"/>
<rect x="369.5" y="124.5" width="70.8" height="70.8" fill="none" stroke="#a0a0a0" stroke-width="1"/>
<rect x="387.6" y="125.0" width="35.2" height="10.2" fill="none" stroke="#707070" stroke-width="1"/>
<rect x="424.4" y="142.6" width="15.1" height="34.7" fill="none" stroke="#707070" stroke-width="1"/>
<path d="M367.7 194.9h1.8M368.6 191.0h0.9M368.6 188.7h0.9M368.6 187.1h0.9M368.6 185.8h0.9M368.6 184.9h0.9M368.6 184.1h0.9M368.6 183.5h0.9M368.6 182.9h0.9M368.6 182.4h0.9M367.7 181.9h1.8M368.6 178.0h0.9M368.6 175.7h0.9M368.6 174.1h0.9M368.6 172.8h0.9M368.6 171.9h0.9M368.6 171.1h0.9M368.6 170.5h0.9M368.6 170.0h0.9M368.6 169.4h0.9M367.7 168.9h1.8M368.6 165.0h0.9M368.6 162.7h0.9M368.6 161.1h0.9M368.6 159.8h0.9M368.6 158.9h0.9M368.6 158.1h0.9M368.6 157.5h0.9M368.6 157.0h0.9M368.6 156.4h0.9M367.7 155.9h1.8M368.6 152.0h0.9M368.6 149.7h0.9M368.6 148.1h0.9M368.6 146.8h0.9M368.6 145.9h0.9M368.6 145.1h0.9M368.6 144.5h0.9M368.6 144.0h0.9M368.6 143.5h0.9M367.7 142.9h1.8M368.6 139.0h0.9M368.6 136.7h0.9M368.6 135.1h0.9M368.6 133.8h0.9M368.6 132.9h0.9M368.6 132.1h0.9M368.6 131.5h0.9M368.6 131.0h0.9M368.6 130.5h0.9M367.7 129.9h1.8M368.6 126.0h0.9M369.8 195.3v1.8M373.7 195.3v0.9M376.0 195.3v0.9M377.5 195.3v0.9M378.8 195.3v0.9M379.7 195.3v0.9M380.5 195.3v0.9M381.1 195.3v0.9M381.6 195.3v0.9M382.1 195.3v0.9M382.7 195.3v1.8M386.5 195.3v0.9M388.8 195.3v0.9M390.4 195.3v0.9M391.6 195.3v0.9M392.5 195.3v0.9M393.3 195.3v0.9M394.0 195.3v0.9M394.5 195.3v0.9M395.0 195.3v0.9M395.5 195.3v1.8M399.4 195.3v0.9M401.7 195.3v0.9M403.2 195.3v0.9M404.5 195.3v0.9M405.4 195.3v0.9M406.2 195.3v0.9M406.8 195.3v0.9M407.3 195.3v0.9M407.8 195.3v0.9M408.4 195.3v1.8M412.2 195.3v0.9M414.5 195.3v0.9M416.1 195.3v0.9M417.3 195.3v0.9M418.2 195.3v0.9M419.0 195.3v0.9M419.7 195.3v0.9M420.2 195.3v0.9M420.7 195.3v0.9M421.2 195.3v1.8M425.1 195.3v0.9M427.4 195.3v0.9M428.9 195.3v0.9M430.2 195.3v0.9M431.1 195.3v0.9M431.9 195.3v0.9M432.5 195.3v0.9M433.0 195.3v0.9M433.5 195.3v0.9M434.1 195.3v1.8M437.9 195.3v0.9" stroke="#444" stroke-width="0.6" fill="none"/>
<g font-size="3.3" fill="#444" font-weight="bold" font-family="Liberation Sans, sans-serif"><text x="364.2" y="196.1" text-anchor="middle" transform="rotate(-45 364.2 195.1)">10<tspan dy="-1" font-size="2.2">0</tspan></text><text x="372.8" y="200.9" text-anchor="middle" transform="rotate(-45 372.8 199.9)">10<tspan dy="-1" font-size="2.2">0</tspan></text><text x="364.2" y="183.1" text-anchor="middle" transform="rotate(-45 364.2 182.1)">10<tspan dy="-1" font-size="2.2">1</tspan></text><text x="385.7" y="200.9" text-anchor="middle" transform="rotate(-45 385.7 199.9)">10<tspan dy="-1" font-size="2.2">1</tspan></text><text x="364.2" y="170.1" text-anchor="middle" transform="rotate(-45 364.2 169.1)">10<tspan dy="-1" font-size="2.2">2</tspan></text><text x="398.5" y="200.9" text-anchor="middle" transform="rotate(-45 398.5 199.9)">10<tspan dy="-1" font-size="2.2">2</tspan></text><text x="364.2" y="157.1" text-anchor="middle" transform="rotate(-45 364.2 156.1)">10<tspan dy="-1" font-size="2.2">3</tspan></text><text x="411.4" y="200.9" text-anchor="middle" transform="rotate(-45 411.4 199.9)">10<tspan dy="-1" font-size="2.2">3</tspan></text><text x="364.2" y="144.1" text-anchor="middle" transform="rotate(-45 364.2 143.1)">10<tspan dy="-1" font-size="2.2">4</tspan></text><text x="424.2" y="200.9" text-anchor="middle" transform="rotate(-45 424.2 199.9)">10<tspan dy="-1" font-size="2.2">4</tspan></text><text x="364.2" y="131.1" text-anchor="middle" transform="rotate(-45 364.2 130.1)">10<tspan dy="-1" font-size="2.2">5</tspan></text><text x="437.1" y="200.9" text-anchor="middle" transform="rotate(-45 437.1 199.9)">10<tspan dy="-1" font-size="2.2">5</tspan></text></g>
<text x="383.7" y="151.7" class="pct" textLength="20.4" lengthAdjust="spacingAndGlyphs">25.7</text>
<text x="403.4" y="186.6" class="pct" textLength="20.4" lengthAdjust="spacingAndGlyphs">54.9</text>
<g filter="url(#bl)">
<path transform="translate(0 .5)" stroke="rgb(125,125,255)" stroke-opacity="0.4" stroke-width="1" d="M306 216h1M309 216h1M311 216h1M324 216h1M309 217h2M326 217h1M306 218h1M309 218h1M307 219h3M326 219h2M330 219h1M304 220h2M308 220h2M307 221h1M309 221h1M325 221h1M328 221h1M305 222h1M309 222h1M324 222h1M327 222h1M310 223h1M322 223h3M312 224h1M320 224h3M325 224h1M307 225h1M315 225h3M320 225h1M306 226h1M317 226h1M320 226h1M312 227h1M315 227h2M316 228h2M320 228h2M337 229h1M346 229h1M304 230h1M316 230h1M319 230h1M321 230h1M317 231h3M341 231h3M292 232h1M318 232h1M325 232h1M334 232h1M346 232h1M304 233h1M317 233h1M334 233h1M337 233h1M339 233h1M317 234h1M321 234h1M331 234h1M335 234h1M305 235h1M326 235h1M331 235h2M345 235h1M310 236h1M314 236h1M322 236h1M324 236h1M308 237h1M312 237h1M317 237h1M320 237h1M326 237h1M330 237h2M343 237h1M345 237h2M312 238h1M318 238h1M329 238h1M343 238h1M303 239h1M310 239h1M319 239h1M326 239h2M343 239h1M315 240h2M319 240h1M322 240h1M345 240h2M311 241h1M314 241h1M320 241h1M322 241h1M326 241h1M344 241h1M302 242h1M305 242h1M311 242h1M315 242h2M320 242h1M324 242h1M342 242h2M312 243h1M314 243h2M317 243h1M322 243h1M324 243h1M342 243h1M309 244h1M315 244h1M317 244h1M321 244h3M342 244h1M346 244h1M309 245h1M312 245h3M317 245h1M319 245h1M297 246h1M302 246h1M310 246h1M320 246h1M341 246h3M295 247h1M307 247h7M319 247h1M344 247h1M301 248h1M307 248h2M313 248h1M341 248h1M346 248h1M300 249h2M307 249h1M314 249h1M339 249h2M344 249h1M296 250h1M302 250h1M338 250h1M308 251h1M341 251h1M296 252h1M310 252h2M338 252h3M307 253h3M337 253h1M341 253h1M301 254h1M303 254h1M306 254h1M308 254h1M337 254h1M311 255h1M300 256h1M306 256h1M314 256h1M293 257h1M304 257h2M311 257h1M336 257h2M304 258h1M310 258h2M313 258h1M315 258h1M335 258h1M304 259h2M310 259h3M339 259h1M304 260h2M310 260h2M321 260h1M324 260h1M303 261h1M309 261h1M313 261h1M316 261h1M319 261h1M327 261h1M338 261h1M304 262h1M309 262h1M316 262h2M323 262h1M325 262h2M328 262h1M306 263h1M309 263h1M315 263h2M323 263h1M327 263h2M335 263h1M337 263h1M307 264h1M312 264h2M318 264h3M324 264h1M326 264h1M335 264h1M337 264h2M304 265h1M309 265h1M318 265h3M327 265h2M330 265h1M333 265h1M305 266h2M314 266h2M319 266h1M323 266h1M327 266h1M330 266h1M336 266h1M308 267h1M321 267h1M324 267h1M326 267h1M328 267h1M334 267h2M311 268h1M315 268h1M323 268h1M326 268h1M332 268h1M334 268h1M313 269h1M334 269h2M312 270h1M314 270h1M316 270h1M320 270h1M325 270h1M321 271h2M307 272h3M323 272h2M323 273h1M314 275h2M319 275h1M328 275h1M315 276h1M309 277h1M319 277h1M328 277h1M312 278h1M305 280h1M313 280h1M317 280h1M307 282h1M317 283h1"/>
<path transform="translate(0 .5)" stroke="rgb(85,100,255)" stroke-opacity="0.7" stroke-width="1" d="M312 216h3M320 216h3M312 217h2M323 217h1M310 218h2M323 218h1M310 219h2M311 220h1M324 220h1M310 221h2M323 221h2M311 222h1M313 222h1M313 223h1M315 223h1M319 223h2M316 224h2M318 225h2M318 227h1M318 228h2M317 229h1M319 229h1M318 230h1M337 234h3M334 235h7M335 236h1M339 236h2M342 236h1M341 237h1M332 238h1M342 238h1M341 239h2M327 241h3M325 242h4M325 243h2M339 244h1M322 245h1M324 245h2M339 245h1M315 246h1M319 246h1M321 246h1M324 246h1M339 246h2M317 247h2M323 247h2M315 248h2M318 248h1M320 248h2M323 248h1M337 248h3M312 249h2M315 249h1M317 249h2M314 250h1M316 250h2M319 250h2M336 250h1M316 251h5M336 251h1M317 252h2M321 252h1M336 252h2M313 253h2M317 253h1M319 253h4M335 253h1M311 254h2M314 254h3M318 254h1M320 254h2M336 254h1M313 255h1M315 255h8M324 255h2M335 255h2M313 256h1M322 256h1M333 256h3M310 257h1M318 257h1M320 257h1M322 257h1M324 257h1M327 257h2M331 257h1M334 257h1M312 258h1M319 258h2M326 258h3M330 258h1M332 258h1M334 258h1M316 259h1M318 259h1M322 259h1M325 259h1M327 259h1M330 259h5M315 260h1M320 260h1M328 260h7M320 261h2M323 261h2M329 261h4M334 261h1M315 262h1M318 262h1M330 262h5M330 263h2M333 263h1M330 264h1M332 264h3M331 265h2"/>
<path transform="translate(0 .5)" stroke="rgb(40,65,255)" stroke-opacity="0.95" stroke-width="1" d="M315 216h4M314 217h1M321 217h2M312 218h2M321 218h2M312 219h1M322 219h1M312 220h1M322 220h2M312 221h3M322 221h1M314 222h2M318 222h1M320 222h2M316 223h3M336 236h3M334 237h2M339 237h1M333 238h2M339 238h3M340 239h1M330 240h3M339 240h3M330 241h1M341 241h1M329 242h1M329 243h1M339 243h1M327 244h4M326 245h2M338 245h1M325 246h3M338 246h1M325 247h2M337 247h1M324 248h2M336 248h1M324 249h1M335 249h2M323 250h2M335 250h1M323 251h2M334 251h1M322 252h3M326 252h1M332 252h1M334 252h1M323 253h4M333 253h1M322 254h4M327 254h3M331 254h4M323 255h1M326 255h8M324 256h2M327 256h5M330 257h1M333 258h1"/>
<path transform="translate(0 .5)" stroke="rgb(20,90,255)" stroke-opacity="1" stroke-width="1" d="M315 217h6M313 219h1M313 220h1M321 220h1M321 221h1M316 222h2M319 222h1M336 237h3M338 238h1M332 239h1M339 239h1M331 241h1M339 241h1M330 242h1M339 242h1M338 244h1M328 245h1M337 245h1M328 246h1M337 246h1M327 247h2M336 247h1M326 248h2M335 248h1M325 249h3M334 249h1M325 250h1M331 250h2M334 250h1M325 251h2M330 251h1M333 251h1M325 252h1M327 252h3M331 252h1M333 252h1M327 253h6M330 254h1"/>
<path transform="translate(0 .5)" stroke="rgb(0,185,240)" stroke-opacity="1" stroke-width="1" d="M314 218h1M316 218h1M314 219h1M320 219h2M314 220h1M320 220h1M319 221h2M337 238h1M333 239h1M338 241h1M338 242h1M330 243h1M337 243h2M337 244h1M329 245h1M329 246h1M336 246h1M328 249h1M326 250h4M333 250h1M327 251h2M332 251h1M330 252h1"/>
<path transform="translate(0 .5)" stroke="rgb(30,225,70)" stroke-opacity="1" stroke-width="1" d="M315 218h1M317 218h4M319 219h1M315 220h1M319 220h1M315 221h4M335 238h2M334 239h2M337 239h2M333 240h2M337 240h2M332 241h2M337 241h1M331 242h2M336 242h2M331 243h2M335 243h2M331 244h2M336 244h1M330 245h2M333 245h1M335 245h2M330 246h3M334 246h2M329 247h3M333 247h3M328 248h7M329 249h5M330 250h1M329 251h1M331 251h1"/>
<path transform="translate(0 .5)" stroke="rgb(190,235,20)" stroke-opacity="1" stroke-width="1" d="M315 219h3M316 220h1M336 239h1M335 240h1M333 242h2M333 243h1M334 244h2M333 246h1M332 247h1"/>
<path transform="translate(0 .5)" stroke="rgb(255,170,0)" stroke-opacity="1" stroke-width="1" d="M317 220h2M334 241h1M334 243h1M333 244h1M332 245h1M334 245h1"/>
<path transform="translate(0 .5)" stroke="rgb(240,40,20)" stroke-opacity="1" stroke-width="1" d="M318 219h1M336 240h1M335 241h2M335 242h1"/>
</g>
<path stroke="rgb(40,65,255)" stroke-width="1" d="M313 286.5h1M314 286.5h1M316 286.5h1M319 286.5h1M320 286.5h1M321 286.5h1M323 286.5h1M324 286.5h1M325 286.5h1M326 286.5h1M327 286.5h1M329 286.5h1M330 286.5h1"/>
<path stroke="rgb(20,90,255)" stroke-width="1" d="M332 286.5h1"/>
<path stroke="rgb(30,225,70)" stroke-width="1" d="M334 286.5h1M335 286.5h1"/>
<path stroke="rgb(190,235,20)" stroke-width="1" d="M336 286.5h1"/>
<path stroke="rgb(0,185,240)" stroke-width="1" d="M340 286.5h1"/>
<rect x="275.7" y="215.6" width="71.4" height="71.2" fill="none" stroke="#a0a0a0" stroke-width="1"/>
<rect x="294.2" y="216.3" width="35.3" height="10.1" fill="none" stroke="#707070" stroke-width="1"/>
<rect x="330.5" y="233.5" width="15.4" height="35.8" fill="none" stroke="#707070" stroke-width="1"/>
<path d="M273.9 286.4h1.8M274.8 282.5h0.9M274.8 280.1h0.9M274.8 278.6h0.9M274.8 277.3h0.9M274.8 276.3h0.9M274.8 275.6h0.9M274.8 274.9h0.9M274.8 274.4h0.9M274.8 273.9h0.9M273.9 273.3h1.8M274.8 269.4h0.9M274.8 267.1h0.9M274.8 265.5h0.9M274.8 264.2h0.9M274.8 263.3h0.9M274.8 262.5h0.9M274.8 261.8h0.9M274.8 261.3h0.9M274.8 260.8h0.9M273.9 260.3h1.8M274.8 256.4h0.9M274.8 254.0h0.9M274.8 252.4h0.9M274.8 251.1h0.9M274.8 250.2h0.9M274.8 249.4h0.9M274.8 248.8h0.9M274.8 248.2h0.9M274.8 247.7h0.9M273.9 247.2h1.8M274.8 243.3h0.9M274.8 240.9h0.9M274.8 239.4h0.9M274.8 238.1h0.9M274.8 237.1h0.9M274.8 236.4h0.9M274.8 235.7h0.9M274.8 235.2h0.9M274.8 234.7h0.9M273.9 234.1h1.8M274.8 230.2h0.9M274.8 227.9h0.9M274.8 226.3h0.9M274.8 225.0h0.9M274.8 224.1h0.9M274.8 223.3h0.9M274.8 222.6h0.9M274.8 222.1h0.9M274.8 221.6h0.9M273.9 221.1h1.8M274.8 217.2h0.9M276.0 286.8v1.8M279.9 286.8v0.9M282.2 286.8v0.9M283.8 286.8v0.9M285.1 286.8v0.9M286.0 286.8v0.9M286.8 286.8v0.9M287.4 286.8v0.9M287.9 286.8v0.9M288.4 286.8v0.9M289.0 286.8v1.8M292.8 286.8v0.9M295.2 286.8v0.9M296.7 286.8v0.9M298.0 286.8v0.9M298.9 286.8v0.9M299.7 286.8v0.9M300.4 286.8v0.9M300.9 286.8v0.9M301.4 286.8v0.9M301.9 286.8v1.8M305.8 286.8v0.9M308.1 286.8v0.9M309.7 286.8v0.9M311.0 286.8v0.9M311.9 286.8v0.9M312.7 286.8v0.9M313.3 286.8v0.9M313.8 286.8v0.9M314.4 286.8v0.9M314.9 286.8v1.8M318.8 286.8v0.9M321.1 286.8v0.9M322.7 286.8v0.9M323.9 286.8v0.9M324.9 286.8v0.9M325.6 286.8v0.9M326.3 286.8v0.9M326.8 286.8v0.9M327.3 286.8v0.9M327.8 286.8v1.8M331.7 286.8v0.9M334.1 286.8v0.9M335.6 286.8v0.9M336.9 286.8v0.9M337.8 286.8v0.9M338.6 286.8v0.9M339.2 286.8v0.9M339.8 286.8v0.9M340.3 286.8v0.9M340.8 286.8v1.8M344.7 286.8v0.9" stroke="#444" stroke-width="0.6" fill="none"/>
<g font-size="3.3" fill="#444" font-weight="bold" font-family="Liberation Sans, sans-serif"><text x="270.4" y="287.6" text-anchor="middle" transform="rotate(-45 270.4 286.6)">10<tspan dy="-1" font-size="2.2">0</tspan></text><text x="279.0" y="292.4" text-anchor="middle" transform="rotate(-45 279.0 291.4)">10<tspan dy="-1" font-size="2.2">0</tspan></text><text x="270.4" y="274.5" text-anchor="middle" transform="rotate(-45 270.4 273.5)">10<tspan dy="-1" font-size="2.2">1</tspan></text><text x="292.0" y="292.4" text-anchor="middle" transform="rotate(-45 292.0 291.4)">10<tspan dy="-1" font-size="2.2">1</tspan></text><text x="270.4" y="261.5" text-anchor="middle" transform="rotate(-45 270.4 260.5)">10<tspan dy="-1" font-size="2.2">2</tspan></text><text x="304.9" y="292.4" text-anchor="middle" transform="rotate(-45 304.9 291.4)">10<tspan dy="-1" font-size="2.2">2</tspan></text><text x="270.4" y="248.4" text-anchor="middle" transform="rotate(-45 270.4 247.4)">10<tspan dy="-1" font-size="2.2">3</tspan></text><text x="317.9" y="292.4" text-anchor="middle" transform="rotate(-45 317.9 291.4)">10<tspan dy="-1" font-size="2.2">3</tspan></text><text x="270.4" y="235.3" text-anchor="middle" transform="rotate(-45 270.4 234.3)">10<tspan dy="-1" font-size="2.2">4</tspan></text><text x="330.8" y="292.4" text-anchor="middle" transform="rotate(-45 330.8 291.4)">10<tspan dy="-1" font-size="2.2">4</tspan></text><text x="270.4" y="222.3" text-anchor="middle" transform="rotate(-45 270.4 221.3)">10<tspan dy="-1" font-size="2.2">5</tspan></text><text x="343.8" y="292.4" text-anchor="middle" transform="rotate(-45 343.8 291.4)">10<tspan dy="-1" font-size="2.2">5</tspan></text></g>
<text x="288.7" y="244.3" class="pct" textLength="20.4" lengthAdjust="spacingAndGlyphs">30.3</text>
<text x="308.4" y="279.3" class="pct" textLength="20.4" lengthAdjust="spacingAndGlyphs">51.6</text>
<g filter="url(#bl)">
<path transform="translate(0 .5)" stroke="rgb(125,125,255)" stroke-opacity="0.4" stroke-width="1" d="M404 215h3M414 215h3M397 216h2M400 216h1M403 216h1M401 217h2M419 217h1M425 217h1M397 218h2M400 218h1M418 218h1M397 219h1M400 219h1M418 219h2M399 220h3M418 220h1M421 220h1M421 221h1M401 222h1M403 222h1M418 222h1M403 223h2M415 223h3M407 224h1M413 224h3M404 225h2M408 225h2M413 225h1M415 225h1M404 226h1M410 226h1M413 226h1M406 227h1M408 227h1M412 227h2M416 227h1M404 228h1M409 228h1M409 229h1M430 229h2M397 230h1M407 230h1M410 230h1M412 230h2M429 230h1M409 231h2M431 231h1M390 232h1M401 232h1M412 232h1M425 232h1M430 232h2M434 232h1M436 232h1M397 233h1M399 233h1M410 233h1M433 233h1M439 233h1M390 234h1M404 234h1M410 234h1M412 234h1M416 234h1M429 234h1M438 234h2M396 235h1M401 235h1M408 235h1M412 235h1M415 235h1M417 235h1M425 235h3M438 235h2M408 236h1M410 236h1M414 236h1M417 236h1M426 236h1M437 236h1M398 237h1M400 237h1M414 237h2M438 237h1M386 238h1M409 238h1M413 238h1M421 238h1M437 238h1M392 239h1M405 239h1M414 239h2M420 239h1M389 240h1M404 240h1M406 240h1M410 240h1M412 240h1M416 240h2M419 240h1M398 241h1M409 241h1M412 241h1M400 242h1M404 242h1M406 242h1M411 242h1M417 242h1M396 243h1M400 243h1M403 243h1M406 243h1M409 243h2M436 243h1M398 244h1M400 244h1M403 244h2M407 244h1M413 244h1M436 244h1M394 245h1M398 245h1M404 245h1M438 245h1M409 246h1M435 246h1M437 246h1M383 247h1M391 247h2M395 247h1M402 247h1M405 247h1M436 247h1M438 247h1M393 248h1M396 248h1M400 248h3M435 248h1M437 248h1M395 249h1M399 249h2M396 250h2M401 250h3M396 251h1M399 251h1M403 251h1M392 252h2M399 252h3M387 253h2M394 253h1M398 253h1M403 253h2M431 253h1M386 254h1M399 254h2M402 254h2M397 255h1M400 255h2M403 255h3M410 255h1M438 255h1M398 256h1M406 256h1M430 256h1M383 257h1M402 257h1M408 257h1M431 257h1M392 258h1M398 258h1M403 258h4M409 258h1M412 258h1M417 258h1M429 258h1M400 259h1M402 259h2M405 259h1M407 259h1M412 259h3M416 259h1M401 260h1M404 260h1M406 260h2M412 260h1M430 260h1M402 261h1M418 261h1M421 261h1M429 261h1M399 262h1M401 262h1M404 262h1M406 262h2M412 262h3M418 262h1M421 262h3M429 262h1M400 263h2M409 263h1M419 263h1M421 263h1M427 263h2M423 264h1M431 264h1M396 265h1M408 265h1M411 265h1M419 265h1M423 265h2M426 265h1M429 265h1M398 266h1M410 266h1M422 266h2M425 266h1M427 266h1M397 267h1M418 267h1M384 268h1M408 268h1M412 268h1M420 268h1M427 268h1M394 269h1M401 269h1M407 269h1M409 269h1M427 269h1M415 270h1M401 271h1M423 271h1M410 272h2M437 274h1M400 275h1M426 275h1M383 277h1M413 277h1M403 278h1M439 279h1"/>
<path transform="translate(0 .5)" stroke="rgb(85,100,255)" stroke-opacity="0.7" stroke-width="1" d="M408 215h4M413 215h1M404 216h1M406 216h1M413 216h1M415 216h1M403 217h2M416 218h2M402 219h2M402 220h1M417 220h1M404 221h1M416 221h2M404 222h3M414 222h3M407 223h3M413 223h1M410 224h1M411 225h1M411 226h2M410 227h1M411 228h2M411 229h2M411 231h1M430 234h2M435 234h1M428 235h2M431 235h1M433 235h2M427 236h2M435 236h2M427 237h1M436 237h1M426 238h1M424 239h1M435 239h3M422 241h1M435 241h1M419 242h1M421 242h1M435 242h1M411 243h1M413 243h2M418 243h3M434 243h1M408 244h3M412 244h1M414 244h3M418 244h2M434 244h1M405 245h1M408 245h1M410 245h1M413 245h1M415 245h1M419 245h1M433 245h3M403 246h4M412 246h1M414 246h1M416 246h2M419 246h1M432 246h2M404 247h1M407 247h2M412 247h2M415 247h2M433 247h1M406 248h1M410 248h2M414 248h1M417 248h1M431 248h3M403 249h2M407 249h2M410 249h1M412 249h3M416 249h1M408 250h1M410 250h1M412 250h1M414 250h2M430 250h2M409 251h2M413 251h1M415 251h3M430 251h1M406 252h4M411 252h1M413 252h2M416 252h2M428 252h1M430 252h1M405 253h1M407 253h2M413 253h2M429 253h2M405 254h3M411 254h6M419 254h1M406 255h2M412 255h2M415 255h1M417 255h2M428 255h1M409 256h1M411 256h1M414 256h3M420 256h1M427 256h2M411 257h1M415 257h1M417 257h1M422 257h1M426 257h1M428 257h1M410 258h1M414 258h1M421 258h3M428 258h1M418 259h5M424 259h1M427 259h1M421 260h1M426 260h3M423 261h1M426 261h1M428 261h1M424 262h1M426 262h1M428 262h1M425 263h1M425 265h1"/>
<path transform="translate(0 .5)" stroke="rgb(40,65,255)" stroke-opacity="0.95" stroke-width="1" d="M407 216h6M405 217h2M414 217h2M405 218h1M414 218h2M405 219h1M415 219h2M404 220h2M415 220h1M405 221h2M414 221h2M407 222h7M432 235h1M429 236h5M428 237h2M431 237h4M427 238h1M433 238h2M425 239h2M433 239h2M424 240h2M434 240h2M423 241h2M433 241h2M422 242h2M433 242h1M422 243h1M420 244h3M432 244h2M420 245h2M432 245h1M418 246h1M420 246h2M431 246h1M417 247h4M430 247h3M418 248h3M430 248h1M417 249h3M428 249h3M417 250h1M429 250h1M418 251h1M428 251h1M418 252h3M427 252h1M429 252h1M417 253h4M426 253h2M421 254h3M425 254h1M421 255h7M423 256h1M425 256h1M424 257h2M424 258h2M425 259h1"/>
<path transform="translate(0 .5)" stroke="rgb(20,90,255)" stroke-opacity="1" stroke-width="1" d="M407 217h2M413 217h1M406 218h1M406 219h1M414 219h1M406 220h1M414 220h1M407 221h1M413 221h1M430 237h1M432 238h1M427 239h1M426 240h1M432 240h1M424 242h1M432 242h1M423 243h2M432 243h1M422 245h2M431 245h1M422 246h1M421 248h1M429 248h1M420 249h1M419 250h3M427 250h2M419 251h2M427 251h1M421 252h1M423 252h1M425 252h2M421 253h3M425 253h1M424 254h1M426 254h1"/>
<path transform="translate(0 .5)" stroke="rgb(0,185,240)" stroke-opacity="1" stroke-width="1" d="M410 217h2M407 218h1M407 220h1M409 221h1M411 221h2M428 238h2M432 239h1M427 240h1M433 240h1M425 241h1M423 244h2M424 245h1M430 245h1M430 246h1M421 247h2M429 247h1M425 248h1M427 248h2M421 249h1M423 250h1M426 250h1M421 251h3M426 251h1M422 252h1M424 252h1M424 253h1"/>
<path transform="translate(0 .5)" stroke="rgb(30,225,70)" stroke-opacity="1" stroke-width="1" d="M409 217h1M412 217h1M408 218h3M412 218h2M407 219h2M413 219h1M408 220h2M412 220h2M408 221h1M410 221h1M430 238h2M428 239h4M429 240h3M426 241h2M431 241h2M425 242h2M431 242h1M425 243h2M431 243h1M430 244h2M425 245h2M429 245h1M423 246h4M428 246h2M423 247h6M422 248h3M426 248h1M422 249h6M422 250h1M424 250h2M424 251h2"/>
<path transform="translate(0 .5)" stroke="rgb(190,235,20)" stroke-opacity="1" stroke-width="1" d="M411 218h1M410 219h1M412 219h1M410 220h1M428 240h1M430 241h1M430 242h1M429 243h1M425 244h1M429 244h1M428 245h1M427 246h1"/>
<path transform="translate(0 .5)" stroke="rgb(255,170,0)" stroke-opacity="1" stroke-width="1" d="M409 219h1M411 220h1M428 241h2M427 242h1M427 243h1M430 243h1M426 244h2M427 245h1"/>
<path transform="translate(0 .5)" stroke="rgb(240,40,20)" stroke-opacity="1" stroke-width="1" d="M411 219h1M428 242h2M428 243h1M428 244h1"/>
</g>
<path stroke="rgb(40,65,255)" stroke-width="1" d="M407 285.2h1M410 285.2h1M411 285.2h1M413 285.2h1M414 285.2h1M416 285.2h1M418 285.2h1M420 285.2h1M421 285.2h1M422 285.2h1M424 285.2h1"/>
<path stroke="rgb(20,90,255)" stroke-width="1" d="M426 285.2h1"/>
<path stroke="rgb(30,225,70)" stroke-width="1" d="M427 285.2h1M428 285.2h1M431 285.2h1M432 285.2h1M433 285.2h1"/>
<path stroke="rgb(0,185,240)" stroke-width="1" d="M434 285.2h1"/>
<rect x="369.5" y="214.5" width="71.4" height="71.0" fill="none" stroke="#a0a0a0" stroke-width="1"/>
<rect x="388.2" y="215.0" width="35.3" height="10.2" fill="none" stroke="#707070" stroke-width="1"/>
<rect x="424.5" y="232.6" width="15.2" height="35.1" fill="none" stroke="#707070" stroke-width="1"/>
<path d="M367.7 285.1h1.8M368.6 281.2h0.9M368.6 278.8h0.9M368.6 277.3h0.9M368.6 276.0h0.9M368.6 275.1h0.9M368.6 274.3h0.9M368.6 273.6h0.9M368.6 273.1h0.9M368.6 272.6h0.9M367.7 272.1h1.8M368.6 268.2h0.9M368.6 265.8h0.9M368.6 264.3h0.9M368.6 263.0h0.9M368.6 262.0h0.9M368.6 261.3h0.9M368.6 260.6h0.9M368.6 260.1h0.9M368.6 259.6h0.9M367.7 259.0h1.8M368.6 255.1h0.9M368.6 252.8h0.9M368.6 251.2h0.9M368.6 249.9h0.9M368.6 249.0h0.9M368.6 248.2h0.9M368.6 247.6h0.9M368.6 247.1h0.9M368.6 246.5h0.9M367.7 246.0h1.8M368.6 242.1h0.9M368.6 239.8h0.9M368.6 238.2h0.9M368.6 236.9h0.9M368.6 236.0h0.9M368.6 235.2h0.9M368.6 234.5h0.9M368.6 234.0h0.9M368.6 233.5h0.9M367.7 233.0h1.8M368.6 229.1h0.9M368.6 226.7h0.9M368.6 225.2h0.9M368.6 223.9h0.9M368.6 223.0h0.9M368.6 222.2h0.9M368.6 221.5h0.9M368.6 221.0h0.9M368.6 220.5h0.9M367.7 220.0h1.8M368.6 216.0h0.9M369.8 285.5v1.8M373.7 285.5v0.9M376.0 285.5v0.9M377.6 285.5v0.9M378.9 285.5v0.9M379.8 285.5v0.9M380.6 285.5v0.9M381.2 285.5v0.9M381.7 285.5v0.9M382.2 285.5v0.9M382.8 285.5v1.8M386.6 285.5v0.9M389.0 285.5v0.9M390.5 285.5v0.9M391.8 285.5v0.9M392.7 285.5v0.9M393.5 285.5v0.9M394.2 285.5v0.9M394.7 285.5v0.9M395.2 285.5v0.9M395.7 285.5v1.8M399.6 285.5v0.9M401.9 285.5v0.9M403.5 285.5v0.9M404.8 285.5v0.9M405.7 285.5v0.9M406.5 285.5v0.9M407.1 285.5v0.9M407.6 285.5v0.9M408.2 285.5v0.9M408.7 285.5v1.8M412.6 285.5v0.9M414.9 285.5v0.9M416.5 285.5v0.9M417.7 285.5v0.9M418.7 285.5v0.9M419.4 285.5v0.9M420.1 285.5v0.9M420.6 285.5v0.9M421.1 285.5v0.9M421.6 285.5v1.8M425.5 285.5v0.9M427.9 285.5v0.9M429.4 285.5v0.9M430.7 285.5v0.9M431.6 285.5v0.9M432.4 285.5v0.9M433.0 285.5v0.9M433.6 285.5v0.9M434.1 285.5v0.9M434.6 285.5v1.8M438.5 285.5v0.9" stroke="#444" stroke-width="0.6" fill="none"/>
<g font-size="3.3" fill="#444" font-weight="bold" font-family="Liberation Sans, sans-serif"><text x="364.2" y="286.3" text-anchor="middle" transform="rotate(-45 364.2 285.3)">10<tspan dy="-1" font-size="2.2">0</tspan></text><text x="372.8" y="291.1" text-anchor="middle" transform="rotate(-45 372.8 290.1)">10<tspan dy="-1" font-size="2.2">0</tspan></text><text x="364.2" y="273.3" text-anchor="middle" transform="rotate(-45 364.2 272.3)">10<tspan dy="-1" font-size="2.2">1</tspan></text><text x="385.8" y="291.1" text-anchor="middle" transform="rotate(-45 385.8 290.1)">10<tspan dy="-1" font-size="2.2">1</tspan></text><text x="364.2" y="260.2" text-anchor="middle" transform="rotate(-45 364.2 259.2)">10<tspan dy="-1" font-size="2.2">2</tspan></text><text x="398.7" y="291.1" text-anchor="middle" transform="rotate(-45 398.7 290.1)">10<tspan dy="-1" font-size="2.2">2</tspan></text><text x="364.2" y="247.2" text-anchor="middle" transform="rotate(-45 364.2 246.2)">10<tspan dy="-1" font-size="2.2">3</tspan></text><text x="411.7" y="291.1" text-anchor="middle" transform="rotate(-45 411.7 290.1)">10<tspan dy="-1" font-size="2.2">3</tspan></text><text x="364.2" y="234.2" text-anchor="middle" transform="rotate(-45 364.2 233.2)">10<tspan dy="-1" font-size="2.2">4</tspan></text><text x="424.6" y="291.1" text-anchor="middle" transform="rotate(-45 424.6 290.1)">10<tspan dy="-1" font-size="2.2">4</tspan></text><text x="364.2" y="221.2" text-anchor="middle" transform="rotate(-45 364.2 220.2)">10<tspan dy="-1" font-size="2.2">5</tspan></text><text x="437.6" y="291.1" text-anchor="middle" transform="rotate(-45 437.6 290.1)">10<tspan dy="-1" font-size="2.2">5</tspan></text></g>
<text x="383.7" y="242.4" class="pct" textLength="20.4" lengthAdjust="spacingAndGlyphs">32.2</text>
<text x="403.4" y="277.2" class="pct" textLength="20.4" lengthAdjust="spacingAndGlyphs">54.5</text>
<g filter="url(#bl)">
<path transform="translate(0 .5)" stroke="rgb(125,125,255)" stroke-opacity="0.4" stroke-width="1" d="M308 309h1M312 309h1M317 309h1M319 309h1M322 309h1M324 309h1M331 309h1M304 310h1M309 310h4M314 310h1M322 310h4M338 310h1M308 311h4M328 311h2M295 312h1M306 312h1M308 312h1M329 312h2M337 312h1M298 313h1M328 313h1M332 313h2M302 314h1M305 314h1M329 314h1M297 315h1M304 315h1M328 315h3M295 316h1M301 316h1M304 316h2M328 316h1M303 317h2M327 317h1M333 317h1M298 318h1M325 318h2M334 318h1M337 318h1M296 319h1M303 319h1M307 319h2M320 319h4M325 319h2M331 319h1M334 319h1M336 319h1M295 320h1M302 320h1M306 320h1M309 320h1M311 320h1M321 320h1M336 320h1M301 321h1M309 321h2M314 321h1M317 321h1M319 321h1M323 321h1M333 321h1M337 321h1M306 322h1M330 322h1M337 322h1M310 323h1M334 323h1M339 323h1M318 324h1M326 324h1M333 324h1M336 324h1M344 324h1M313 325h1M333 325h1M339 325h1M327 326h1M333 326h1M333 327h1M303 328h1M312 328h1M329 328h1M331 328h1M340 328h2M305 329h1M309 329h1M313 329h1M315 329h2M322 329h1M329 329h1M341 329h1M323 330h1M328 330h2M343 330h1M314 331h1M323 331h1M343 331h1M318 332h2M325 332h1M298 333h1M311 333h2M314 333h1M316 333h1M318 333h1M320 333h1M328 333h1M342 333h2M292 334h1M306 334h1M308 334h1M313 334h2M320 334h1M326 334h1M344 334h1M307 335h1M312 335h1M314 335h1M316 335h1M327 335h1M343 335h1M308 336h1M311 336h1M319 336h1M323 336h1M325 336h1M327 336h1M310 337h2M322 337h2M327 337h2M308 338h2M326 338h1M342 338h1M344 338h1M305 339h1M307 339h1M309 339h1M307 340h3M323 340h1M342 340h1M344 340h1M306 341h2M322 341h1M326 341h1M298 342h1M305 342h1M323 342h1M326 342h2M342 342h1M298 343h1M305 343h2M309 343h1M323 343h1M341 343h1M293 344h1M306 344h1M308 344h1M327 344h1M325 345h3M306 346h1M308 346h1M329 346h1M345 346h1M308 347h1M329 347h1M344 347h1M303 348h1M305 348h1M323 348h3M327 348h1M339 348h1M342 348h1M310 349h1M327 349h2M331 349h1M339 349h1M342 349h1M311 350h1M322 350h2M325 350h1M331 350h1M297 351h1M312 351h2M320 351h1M323 351h1M325 351h2M329 351h2M308 352h2M311 352h2M315 352h1M320 352h1M325 352h1M330 352h3M308 353h1M311 353h2M314 353h1M317 353h1M321 353h1M323 353h1M329 353h4M308 354h1M310 354h1M313 354h1M315 354h1M317 354h1M323 354h2M326 354h1M328 354h1M332 354h1M315 355h3M319 355h5M328 355h1M331 355h1M337 355h1M298 356h1M315 356h1M320 356h1M322 356h1M338 356h2M311 357h1M313 357h1M315 357h1M322 357h2M327 357h1M332 357h1M313 358h1M333 358h1M303 359h1M311 359h1M315 359h1M333 359h2M336 359h1M315 360h1M336 360h2M332 361h1M334 361h1M337 361h1M332 362h1M335 362h1M333 363h1M335 363h1M304 364h1M332 365h1M335 367h2M333 369h1M333 374h1M338 375h1"/>
<path transform="translate(0 .5)" stroke="rgb(85,100,255)" stroke-opacity="0.7" stroke-width="1" d="M319 310h3M312 311h2M315 311h2M322 311h3M311 312h2M325 312h2M334 312h2M309 313h1M327 313h1M334 313h1M337 313h1M306 314h1M308 314h1M337 314h1M306 315h4M325 315h3M333 315h1M338 315h1M306 316h3M326 316h1M333 316h1M337 316h1M306 317h1M309 317h1M323 317h1M325 317h1M336 317h1M307 318h3M312 318h3M319 318h4M335 318h2M311 319h4M319 319h1M336 326h1M338 326h1M334 327h2M337 327h3M334 328h2M337 328h3M332 329h2M338 329h1M331 330h3M331 331h1M340 331h1M331 332h1M340 332h2M330 333h1M340 333h1M330 334h1M342 334h1M317 335h1M329 335h2M341 335h1M313 336h6M341 336h1M313 337h2M316 337h3M320 337h2M329 337h1M310 338h2M319 338h1M329 338h1M341 338h1M311 339h1M315 339h1M317 339h1M319 339h2M328 339h3M313 340h1M315 340h7M330 340h1M309 341h2M313 341h1M315 341h2M320 341h2M323 341h1M340 341h2M309 342h1M311 342h1M314 342h4M325 342h1M329 342h1M340 342h1M310 343h1M312 343h1M314 343h4M320 343h3M325 343h1M328 343h2M309 344h1M316 344h1M318 344h6M330 344h1M339 344h1M341 344h1M310 345h1M316 345h1M318 345h2M321 345h1M323 345h1M328 345h1M339 345h2M310 346h6M317 346h1M320 346h4M331 346h1M311 347h2M315 347h4M320 347h1M323 347h1M330 347h1M338 347h2M309 348h1M313 348h1M319 348h1M321 348h2M331 348h2M338 348h1M312 349h1M314 349h1M316 349h1M318 349h2M323 349h2M332 349h2M337 349h2M315 350h1M317 350h2M321 350h1M337 350h2M317 351h1M333 351h1M316 352h1M318 352h2M337 352h1M333 353h1M335 353h3M333 354h2M336 354h2M335 355h2M333 356h2M336 356h1M334 357h3M335 358h2M335 359h1"/>
<path transform="translate(0 .5)" stroke="rgb(40,65,255)" stroke-opacity="0.95" stroke-width="1" d="M317 311h1M319 311h3M313 312h3M318 312h2M321 312h3M311 313h2M322 313h1M324 313h3M335 313h2M309 314h4M324 314h3M334 314h3M310 315h1M324 315h1M334 315h3M310 316h3M323 316h1M334 316h2M311 317h5M320 317h3M315 318h4M336 328h1M334 329h4M334 330h2M337 330h3M332 331h2M332 332h1M339 332h1M331 333h2M340 334h1M331 335h1M340 335h1M331 336h1M340 336h1M331 337h1M340 337h1M330 338h2M340 338h1M340 339h1M331 340h1M330 341h2M330 342h3M338 342h2M330 343h3M338 343h2M331 344h2M338 344h1M332 345h1M338 345h1M332 346h2M337 346h1M333 347h1M337 347h1M333 348h1M337 348h1M334 349h1M336 349h1M334 350h1M334 351h1M336 351h1M334 352h1M336 352h1M334 353h1M335 354h1M334 355h1M335 356h1"/>
<path transform="translate(0 .5)" stroke="rgb(20,90,255)" stroke-opacity="1" stroke-width="1" d="M316 312h2M320 312h1M313 313h2M318 313h1M323 313h1M311 315h2M313 316h1M320 316h1M322 316h1M316 317h4M336 330h1M334 331h5M333 332h2M338 332h1M333 333h2M338 333h2M332 334h1M339 334h1M339 335h1M339 337h1M339 338h1M331 339h1M339 339h1M339 340h1M332 341h1M339 341h1M333 345h2M336 345h2M334 346h1M336 346h1M334 347h1M336 347h1M334 348h1M336 348h1M335 349h1M335 350h2M335 351h1M335 352h1"/>
<path transform="translate(0 .5)" stroke="rgb(0,185,240)" stroke-opacity="1" stroke-width="1" d="M315 313h2M313 314h1M322 314h2M313 315h1M323 315h1M314 316h1M318 316h1M321 316h1M336 332h2M338 334h1M332 335h1M338 335h1M332 336h1M338 336h2M332 337h1M332 340h1M338 341h1M333 343h2M337 343h1M333 344h2M337 344h1M335 345h1M335 347h1M335 348h1"/>
<path transform="translate(0 .5)" stroke="rgb(30,225,70)" stroke-opacity="1" stroke-width="1" d="M317 313h1M319 313h3M314 314h8M314 315h9M315 316h3M319 316h1M335 332h1M335 333h3M333 334h1M337 334h1M333 335h1M333 336h1M337 336h1M333 337h1M337 337h2M332 338h2M338 338h1M332 339h2M338 339h1M333 340h1M337 340h2M333 341h5M333 342h5M335 343h2M335 344h2M335 346h1"/>
<path transform="translate(0 .5)" stroke="rgb(190,235,20)" stroke-opacity="1" stroke-width="1" d="M334 334h3M334 335h1M334 337h1M337 338h1M337 339h1M334 340h1"/>
<path transform="translate(0 .5)" stroke="rgb(255,170,0)" stroke-opacity="1" stroke-width="1" d="M334 336h1M334 338h1M336 338h1M335 339h1"/>
<path transform="translate(0 .5)" stroke="rgb(240,40,20)" stroke-opacity="1" stroke-width="1" d="M335 335h3M335 336h2M335 337h2M335 338h1M334 339h1M336 339h1M335 340h2"/>
</g>
<path stroke="rgb(40,65,255)" stroke-width="1" d="M311 379.9h1M312 379.9h1M314 379.9h1M315 379.9h1M316 379.9h1M317 379.9h1M321 379.9h1M323 379.9h1M324 379.9h1M327 379.9h1M328 379.9h1M329 379.9h1M330 379.9h1"/>
<path stroke="rgb(20,90,255)" stroke-width="1" d="M332 379.9h1M341 379.9h1"/>
<path stroke="rgb(0,185,240)" stroke-width="1" d="M333 379.9h1M340 379.9h1"/>
<path stroke="rgb(30,225,70)" stroke-width="1" d="M334 379.9h1M338 379.9h1"/>
<path stroke="rgb(190,235,20)" stroke-width="1" d="M336 379.9h1M337 379.9h1"/>
<rect x="276.4" y="308.9" width="70.8" height="71.3" fill="none" stroke="#a0a0a0" stroke-width="1"/>
<rect x="295.5" y="309.8" width="33.6" height="13.8" fill="none" stroke="#707070" stroke-width="1"/>
<rect x="326.5" y="327.1" width="20.0" height="35.7" fill="none" stroke="#707070" stroke-width="1"/>
<path d="M274.6 379.8h1.8M275.5 375.9h0.9M275.5 373.5h0.9M275.5 371.9h0.9M275.5 370.6h0.9M275.5 369.7h0.9M275.5 368.9h0.9M275.5 368.3h0.9M275.5 367.8h0.9M275.5 367.2h0.9M274.6 366.7h1.8M275.5 362.8h0.9M275.5 360.4h0.9M275.5 358.9h0.9M275.5 357.6h0.9M275.5 356.6h0.9M275.5 355.9h0.9M275.5 355.2h0.9M275.5 354.7h0.9M275.5 354.2h0.9M274.6 353.6h1.8M275.5 349.7h0.9M275.5 347.4h0.9M275.5 345.8h0.9M275.5 344.5h0.9M275.5 343.6h0.9M275.5 342.8h0.9M275.5 342.1h0.9M275.5 341.6h0.9M275.5 341.1h0.9M274.6 340.5h1.8M275.5 336.6h0.9M275.5 334.3h0.9M275.5 332.7h0.9M275.5 331.4h0.9M275.5 330.5h0.9M275.5 329.7h0.9M275.5 329.0h0.9M275.5 328.5h0.9M275.5 328.0h0.9M274.6 327.5h1.8M275.5 323.5h0.9M275.5 321.2h0.9M275.5 319.6h0.9M275.5 318.3h0.9M275.5 317.4h0.9M275.5 316.6h0.9M275.5 316.0h0.9M275.5 315.4h0.9M275.5 314.9h0.9M274.6 314.4h1.8M275.5 310.5h0.9M276.7 380.2v1.8M280.6 380.2v0.9M282.9 380.2v0.9M284.4 380.2v0.9M285.7 380.2v0.9M286.6 380.2v0.9M287.4 380.2v0.9M288.0 380.2v0.9M288.5 380.2v0.9M289.0 380.2v0.9M289.6 380.2v1.8M293.4 380.2v0.9M295.7 380.2v0.9M297.3 380.2v0.9M298.5 380.2v0.9M299.4 380.2v0.9M300.2 380.2v0.9M300.9 380.2v0.9M301.4 380.2v0.9M301.9 380.2v0.9M302.4 380.2v1.8M306.3 380.2v0.9M308.6 380.2v0.9M310.1 380.2v0.9M311.4 380.2v0.9M312.3 380.2v0.9M313.1 380.2v0.9M313.7 380.2v0.9M314.2 380.2v0.9M314.7 380.2v0.9M315.3 380.2v1.8M319.1 380.2v0.9M321.4 380.2v0.9M323.0 380.2v0.9M324.2 380.2v0.9M325.1 380.2v0.9M325.9 380.2v0.9M326.6 380.2v0.9M327.1 380.2v0.9M327.6 380.2v0.9M328.1 380.2v1.8M332.0 380.2v0.9M334.3 380.2v0.9M335.8 380.2v0.9M337.1 380.2v0.9M338.0 380.2v0.9M338.8 380.2v0.9M339.4 380.2v0.9M339.9 380.2v0.9M340.4 380.2v0.9M341.0 380.2v1.8M344.8 380.2v0.9" stroke="#444" stroke-width="0.6" fill="none"/>
<g font-size="3.3" fill="#444" font-weight="bold" font-family="Liberation Sans, sans-serif"><text x="271.1" y="381.0" text-anchor="middle" transform="rotate(-45 271.1 380.0)">10<tspan dy="-1" font-size="2.2">0</tspan></text><text x="279.7" y="385.8" text-anchor="middle" transform="rotate(-45 279.7 384.8)">10<tspan dy="-1" font-size="2.2">0</tspan></text><text x="271.1" y="367.9" text-anchor="middle" transform="rotate(-45 271.1 366.9)">10<tspan dy="-1" font-size="2.2">1</tspan></text><text x="292.6" y="385.8" text-anchor="middle" transform="rotate(-45 292.6 384.8)">10<tspan dy="-1" font-size="2.2">1</tspan></text><text x="271.1" y="354.8" text-anchor="middle" transform="rotate(-45 271.1 353.8)">10<tspan dy="-1" font-size="2.2">2</tspan></text><text x="305.4" y="385.8" text-anchor="middle" transform="rotate(-45 305.4 384.8)">10<tspan dy="-1" font-size="2.2">2</tspan></text><text x="271.1" y="341.7" text-anchor="middle" transform="rotate(-45 271.1 340.7)">10<tspan dy="-1" font-size="2.2">3</tspan></text><text x="318.3" y="385.8" text-anchor="middle" transform="rotate(-45 318.3 384.8)">10<tspan dy="-1" font-size="2.2">3</tspan></text><text x="271.1" y="328.7" text-anchor="middle" transform="rotate(-45 271.1 327.7)">10<tspan dy="-1" font-size="2.2">4</tspan></text><text x="331.1" y="385.8" text-anchor="middle" transform="rotate(-45 331.1 384.8)">10<tspan dy="-1" font-size="2.2">4</tspan></text><text x="271.1" y="315.6" text-anchor="middle" transform="rotate(-45 271.1 314.6)">10<tspan dy="-1" font-size="2.2">5</tspan></text><text x="344.0" y="385.8" text-anchor="middle" transform="rotate(-45 344.0 384.8)">10<tspan dy="-1" font-size="2.2">5</tspan></text></g>
<text x="288.7" y="339.3" class="pct" textLength="20.4" lengthAdjust="spacingAndGlyphs">25.9</text>
<text x="308.4" y="374.2" class="pct" textLength="20.4" lengthAdjust="spacingAndGlyphs">66.8</text>
<g filter="url(#bl)">
<path transform="translate(0 .5)" stroke="rgb(125,125,255)" stroke-opacity="0.4" stroke-width="1" d="M405 309h2M412 309h1M415 309h1M417 309h2M420 309h1M404 310h1M421 310h2M425 310h1M427 310h1M390 311h1M420 311h2M423 311h1M395 312h1M398 312h1M400 312h1M422 312h2M393 313h1M396 313h3M425 313h1M394 314h1M397 314h2M422 314h1M393 315h1M398 315h1M425 315h1M393 316h5M425 316h1M398 317h1M421 317h1M425 317h1M398 318h2M402 318h1M416 318h3M422 318h1M427 318h1M436 318h1M393 319h1M401 319h1M403 319h1M405 319h2M408 319h1M410 319h3M414 319h2M427 319h1M389 320h1M400 320h1M412 320h1M416 320h1M428 320h2M409 321h1M416 321h1M428 321h3M395 322h1M411 322h1M416 322h1M422 322h1M427 322h2M405 323h1M425 323h1M430 323h1M414 324h1M425 324h1M427 324h1M434 324h1M398 325h1M434 325h1M436 325h1M399 326h1M407 326h1M409 326h1M420 326h1M426 326h1M409 327h1M419 327h1M422 327h2M436 327h1M400 328h1M407 328h1M407 329h3M402 330h1M412 330h2M418 330h1M422 330h1M404 331h1M413 331h1M421 331h1M405 332h1M416 332h1M422 332h1M437 332h1M397 333h1M399 333h1M402 333h1M405 333h1M394 334h1M397 334h2M400 334h1M402 334h1M404 334h1M411 334h1M414 334h1M399 335h1M401 335h1M407 335h1M411 335h1M413 335h1M415 335h1M418 335h1M421 335h1M436 335h1M397 336h1M401 336h1M403 336h1M412 336h1M415 336h2M439 336h1M387 337h1M391 337h1M396 337h1M399 337h1M415 337h1M418 337h1M436 337h1M398 338h2M412 338h1M414 338h2M420 338h1M391 339h1M400 339h1M395 340h2M400 340h2M415 340h1M419 340h1M436 340h1M393 341h1M438 341h1M398 342h1M400 342h1M434 342h1M391 343h1M393 343h1M398 343h2M416 343h1M397 344h1M399 344h1M421 344h2M435 344h1M439 344h1M415 345h1M418 345h1M420 345h1M422 345h1M433 345h1M384 346h1M398 346h1M401 346h1M416 346h3M420 346h2M400 347h1M415 347h1M420 347h1M434 347h1M395 348h1M397 348h2M414 348h2M418 348h3M434 348h1M398 349h1M400 349h1M402 349h2M408 349h1M416 349h4M433 349h1M397 350h1M401 350h1M404 350h1M409 350h1M420 350h1M423 350h1M433 350h1M392 351h1M395 351h1M400 351h1M403 351h1M412 351h3M431 351h1M396 352h1M403 352h1M409 352h1M419 352h1M425 352h1M399 353h1M407 353h3M411 353h1M415 353h1M418 353h2M398 354h1M400 354h1M411 354h1M430 354h1M405 355h2M409 355h1M422 355h1M425 355h1M431 355h1M402 356h1M405 356h1M407 356h1M422 356h1M425 356h1M393 357h1M412 357h1M417 357h1M432 357h1M424 358h1M426 358h1M430 358h1M427 359h1M429 359h2M416 360h1M427 360h1M430 360h1M408 361h1M429 361h1M430 362h1M430 363h1M420 364h1M433 364h1M428 366h1"/>
<path transform="translate(0 .5)" stroke="rgb(85,100,255)" stroke-opacity="0.7" stroke-width="1" d="M406 310h1M408 310h1M410 310h1M412 310h6M403 311h1M405 311h1M416 311h4M428 311h1M401 312h2M419 312h2M426 312h2M430 312h1M399 313h2M402 313h1M420 313h2M426 313h1M400 314h2M419 314h3M426 314h1M430 314h1M397 315h1M400 315h2M419 315h1M430 315h1M400 316h1M402 316h2M417 316h2M427 316h2M399 317h4M408 317h1M415 317h3M427 317h1M403 318h1M408 318h2M412 318h1M415 318h1M427 326h2M425 327h1M427 327h1M430 327h4M424 328h1M432 328h2M424 329h1M432 329h2M423 330h2M434 330h1M423 331h1M433 331h2M423 332h1M433 332h1M423 333h1M434 333h1M422 334h1M434 334h1M405 335h1M408 335h2M422 335h2M433 335h1M435 335h1M405 336h2M409 336h3M421 336h2M435 336h1M405 337h2M408 337h1M410 337h1M412 337h1M422 337h1M433 337h2M402 338h1M404 338h6M413 338h1M422 338h1M404 339h6M411 339h3M421 339h2M433 339h2M402 340h3M406 340h2M409 340h2M412 340h1M414 340h1M422 340h1M402 341h6M409 341h2M412 341h3M422 341h1M403 342h3M412 342h1M415 342h1M421 342h1M423 342h1M433 342h1M402 343h3M407 343h4M412 343h3M423 343h1M432 343h2M402 344h4M407 344h2M410 344h2M413 344h1M423 344h2M433 344h1M402 345h1M404 345h1M407 345h3M411 345h2M414 345h1M423 345h2M432 345h1M403 346h3M407 346h3M412 346h1M414 346h1M424 346h1M431 346h1M403 347h1M405 347h1M407 347h3M425 347h1M431 347h1M404 348h1M406 348h5M425 348h1M430 348h1M405 349h3M409 349h4M425 349h2M430 349h1M406 350h3M410 350h1M425 350h2M430 350h1M406 351h1M408 351h2M425 351h2M430 351h1M426 352h1M430 352h1M427 353h1M429 353h1M426 354h1M429 354h1M426 355h2M427 356h3M427 357h2"/>
<path transform="translate(0 .5)" stroke="rgb(40,65,255)" stroke-opacity="0.95" stroke-width="1" d="M407 311h5M413 311h3M404 312h4M417 312h1M403 313h1M405 313h1M417 313h1M419 313h1M427 313h3M402 314h1M404 314h1M417 314h2M427 314h2M403 315h2M416 315h3M427 315h3M404 316h2M414 316h3M405 317h1M407 317h1M409 317h5M429 327h1M428 328h1M430 328h2M426 329h6M425 330h2M431 330h2M425 331h2M432 331h1M424 332h2M432 332h1M432 333h2M424 334h1M433 334h1M423 336h1M432 336h2M423 337h1M432 337h1M423 338h1M433 338h1M423 339h1M423 340h2M432 340h2M424 341h1M432 341h1M409 342h1M424 342h1M431 342h2M424 343h1M431 343h1M425 344h1M430 344h2M425 345h2M430 345h2M426 346h1M430 346h1M429 347h2M426 348h1M429 348h1M427 349h3M427 350h3M427 351h3M427 352h3M428 353h1M427 354h2M428 355h1"/>
<path transform="translate(0 .5)" stroke="rgb(20,90,255)" stroke-opacity="1" stroke-width="1" d="M412 311h1M409 312h1M413 312h1M415 312h2M406 313h1M415 313h2M416 314h1M405 315h2M406 316h3M413 316h1M427 330h4M427 331h1M431 331h1M431 332h1M425 333h2M431 333h1M431 334h2M424 335h1M432 335h1M424 336h1M424 337h1M424 338h1M432 338h1M424 339h1M432 339h1M425 340h1M431 341h1M425 342h2M425 343h2M430 343h1M426 344h1M427 345h1M429 345h1M427 346h3M427 347h2M427 348h2"/>
<path transform="translate(0 .5)" stroke="rgb(0,185,240)" stroke-opacity="1" stroke-width="1" d="M408 312h1M410 312h2M414 312h1M407 313h1M405 314h1M415 314h1M415 315h1M410 316h3M430 331h1M426 332h1M425 334h1M425 335h1M431 336h1M425 337h1M431 338h1M425 339h1M431 340h1M425 341h1M430 342h1M427 343h1M428 344h2M428 345h1"/>
<path transform="translate(0 .5)" stroke="rgb(30,225,70)" stroke-opacity="1" stroke-width="1" d="M412 312h1M408 313h7M406 314h9M407 315h8M409 316h1M428 331h2M427 332h4M430 333h1M426 334h1M430 334h1M426 335h1M431 335h1M425 336h1M426 337h1M430 337h2M425 338h2M430 338h1M426 339h2M429 339h3M426 340h1M430 340h1M426 341h5M427 342h3M428 343h2M427 344h1"/>
<path transform="translate(0 .5)" stroke="rgb(190,235,20)" stroke-opacity="1" stroke-width="1" d="M427 333h3M427 334h1M426 336h1M429 338h1M427 340h3"/>
<path transform="translate(0 .5)" stroke="rgb(255,170,0)" stroke-opacity="1" stroke-width="1" d="M428 334h2M427 335h1M430 335h1M430 336h1M427 337h1M428 339h1"/>
<path transform="translate(0 .5)" stroke="rgb(240,40,20)" stroke-opacity="1" stroke-width="1" d="M428 335h2M427 336h3M428 337h2M427 338h2"/>
</g>
<path stroke="rgb(40,65,255)" stroke-width="1" d="M405 379.1h1M407 379.1h1M408 379.1h1M409 379.1h1M411 379.1h1M414 379.1h1M415 379.1h1M416 379.1h1M417 379.1h1M419 379.1h1M422 379.1h1M424 379.1h1"/>
<path stroke="rgb(20,90,255)" stroke-width="1" d="M426 379.1h1"/>
<path stroke="rgb(30,225,70)" stroke-width="1" d="M428 379.1h1M429 379.1h1"/>
<rect x="369.5" y="308.0" width="71.4" height="71.4" fill="none" stroke="#a0a0a0" stroke-width="1"/>
<rect x="388.4" y="308.4" width="34.2" height="14.4" fill="none" stroke="#707070" stroke-width="1"/>
<rect x="419.5" y="326.2" width="20.1" height="36.1" fill="none" stroke="#707070" stroke-width="1"/>
<path d="M367.7 379.0h1.8M368.6 375.1h0.9M368.6 372.7h0.9M368.6 371.1h0.9M368.6 369.8h0.9M368.6 368.9h0.9M368.6 368.1h0.9M368.6 367.5h0.9M368.6 366.9h0.9M368.6 366.4h0.9M367.7 365.9h1.8M368.6 362.0h0.9M368.6 359.6h0.9M368.6 358.0h0.9M368.6 356.7h0.9M368.6 355.8h0.9M368.6 355.0h0.9M368.6 354.4h0.9M368.6 353.8h0.9M368.6 353.3h0.9M367.7 352.8h1.8M368.6 348.9h0.9M368.6 346.5h0.9M368.6 344.9h0.9M368.6 343.6h0.9M368.6 342.7h0.9M368.6 341.9h0.9M368.6 341.3h0.9M368.6 340.7h0.9M368.6 340.2h0.9M367.7 339.7h1.8M368.6 335.8h0.9M368.6 333.4h0.9M368.6 331.8h0.9M368.6 330.5h0.9M368.6 329.6h0.9M368.6 328.8h0.9M368.6 328.2h0.9M368.6 327.6h0.9M368.6 327.1h0.9M367.7 326.6h1.8M368.6 322.7h0.9M368.6 320.3h0.9M368.6 318.7h0.9M368.6 317.4h0.9M368.6 316.5h0.9M368.6 315.7h0.9M368.6 315.1h0.9M368.6 314.5h0.9M368.6 314.0h0.9M367.7 313.5h1.8M368.6 309.6h0.9M369.8 379.4v1.8M373.7 379.4v0.9M376.0 379.4v0.9M377.6 379.4v0.9M378.9 379.4v0.9M379.8 379.4v0.9M380.6 379.4v0.9M381.2 379.4v0.9M381.7 379.4v0.9M382.2 379.4v0.9M382.8 379.4v1.8M386.6 379.4v0.9M389.0 379.4v0.9M390.5 379.4v0.9M391.8 379.4v0.9M392.7 379.4v0.9M393.5 379.4v0.9M394.2 379.4v0.9M394.7 379.4v0.9M395.2 379.4v0.9M395.7 379.4v1.8M399.6 379.4v0.9M401.9 379.4v0.9M403.5 379.4v0.9M404.8 379.4v0.9M405.7 379.4v0.9M406.5 379.4v0.9M407.1 379.4v0.9M407.6 379.4v0.9M408.2 379.4v0.9M408.7 379.4v1.8M412.6 379.4v0.9M414.9 379.4v0.9M416.5 379.4v0.9M417.7 379.4v0.9M418.7 379.4v0.9M419.4 379.4v0.9M420.1 379.4v0.9M420.6 379.4v0.9M421.1 379.4v0.9M421.6 379.4v1.8M425.5 379.4v0.9M427.9 379.4v0.9M429.4 379.4v0.9M430.7 379.4v0.9M431.6 379.4v0.9M432.4 379.4v0.9M433.0 379.4v0.9M433.6 379.4v0.9M434.1 379.4v0.9M434.6 379.4v1.8M438.5 379.4v0.9" stroke="#444" stroke-width="0.6" fill="none"/>
<g font-size="3.3" fill="#444" font-weight="bold" font-family="Liberation Sans, sans-serif"><text x="364.2" y="380.2" text-anchor="middle" transform="rotate(-45 364.2 379.2)">10<tspan dy="-1" font-size="2.2">0</tspan></text><text x="372.8" y="385.0" text-anchor="middle" transform="rotate(-45 372.8 384.0)">10<tspan dy="-1" font-size="2.2">0</tspan></text><text x="364.2" y="367.1" text-anchor="middle" transform="rotate(-45 364.2 366.1)">10<tspan dy="-1" font-size="2.2">1</tspan></text><text x="385.8" y="385.0" text-anchor="middle" transform="rotate(-45 385.8 384.0)">10<tspan dy="-1" font-size="2.2">1</tspan></text><text x="364.2" y="354.0" text-anchor="middle" transform="rotate(-45 364.2 353.0)">10<tspan dy="-1" font-size="2.2">2</tspan></text><text x="398.7" y="385.0" text-anchor="middle" transform="rotate(-45 398.7 384.0)">10<tspan dy="-1" font-size="2.2">2</tspan></text><text x="364.2" y="340.9" text-anchor="middle" transform="rotate(-45 364.2 339.9)">10<tspan dy="-1" font-size="2.2">3</tspan></text><text x="411.7" y="385.0" text-anchor="middle" transform="rotate(-45 411.7 384.0)">10<tspan dy="-1" font-size="2.2">3</tspan></text><text x="364.2" y="327.8" text-anchor="middle" transform="rotate(-45 364.2 326.8)">10<tspan dy="-1" font-size="2.2">4</tspan></text><text x="424.6" y="385.0" text-anchor="middle" transform="rotate(-45 424.6 384.0)">10<tspan dy="-1" font-size="2.2">4</tspan></text><text x="364.2" y="314.7" text-anchor="middle" transform="rotate(-45 364.2 313.7)">10<tspan dy="-1" font-size="2.2">5</tspan></text><text x="437.6" y="385.0" text-anchor="middle" transform="rotate(-45 437.6 384.0)">10<tspan dy="-1" font-size="2.2">5</tspan></text></g>
<text x="382.8" y="335.6" class="pct" textLength="20.4" lengthAdjust="spacingAndGlyphs">34.0</text>
<text x="402.8" y="372.9" class="pct" textLength="20.4" lengthAdjust="spacingAndGlyphs">56.8</text>
<g filter="url(#bl)">
<path transform="translate(0 .5)" stroke="rgb(125,125,255)" stroke-opacity="0.4" stroke-width="1" d="M307 400h1M316 400h1M318 400h1M330 400h1M312 401h1M315 401h1M319 401h2M322 401h1M324 401h1M332 401h1M338 401h1M303 402h1M306 402h1M309 402h3M322 402h1M333 402h2M338 402h1M299 403h1M305 403h3M324 403h1M331 403h1M333 403h4M303 404h1M305 404h1M324 404h1M326 404h3M337 404h1M301 405h1M303 405h1M329 405h1M337 405h2M298 406h1M300 406h1M326 406h1M331 406h2M289 407h1M294 407h1M297 407h3M301 407h1M326 407h1M328 407h2M338 407h1M300 408h1M302 408h1M332 408h1M337 408h1M296 409h1M301 409h1M332 409h1M335 409h1M339 409h1M299 410h2M303 410h3M322 410h1M331 410h1M335 410h1M297 411h1M308 411h1M313 411h1M315 411h1M323 411h1M296 412h1M300 412h1M305 412h1M321 412h2M333 412h1M308 413h1M311 413h1M313 413h1M333 413h1M335 413h1M339 413h1M312 414h1M330 414h1M333 414h1M340 414h1M314 415h1M334 415h1M336 415h1M292 416h1M306 416h1M310 416h1M313 416h1M331 416h3M335 416h1M338 416h1M300 417h1M312 417h1M331 417h1M338 417h2M339 418h1M328 419h1M339 419h1M308 420h1M329 420h1M339 420h2M301 421h1M304 421h1M319 421h1M325 421h1M305 422h1M311 422h1M313 422h2M316 422h3M326 422h1M342 422h1M345 422h1M323 423h1M305 424h1M310 424h2M323 424h1M326 424h1M298 425h1M310 425h1M316 425h1M319 425h1M341 425h2M302 426h1M314 426h1M318 426h1M320 426h1M325 426h2M341 426h1M304 427h1M310 427h2M322 427h1M327 427h1M300 428h1M310 428h1M320 428h1M325 428h3M342 428h1M346 428h1M293 429h1M300 429h1M306 429h1M313 429h1M319 429h1M325 429h2M341 429h2M296 430h1M315 430h1M317 430h4M322 430h3M326 430h1M345 430h1M298 431h1M301 431h1M303 431h1M311 431h1M299 432h1M303 432h1M306 432h1M308 432h1M323 432h1M325 432h1M341 432h1M343 432h1M300 433h1M307 433h1M320 433h3M341 433h1M304 434h2M323 434h1M340 434h1M303 435h1M306 435h2M304 436h1M325 436h1M327 436h1M304 437h3M323 437h1M291 438h1M307 438h1M325 438h1M327 438h1M304 439h1M325 439h1M329 439h1M303 440h1M306 440h1M308 440h1M321 440h1M326 440h1M340 440h1M307 441h1M312 441h1M323 441h1M329 441h2M301 442h1M308 442h2M311 442h1M329 442h1M331 442h1M344 442h1M295 443h1M319 443h1M322 443h1M326 443h1M328 443h2M339 443h1M344 443h1M303 444h1M310 444h2M314 444h1M316 444h1M320 444h2M324 444h1M331 444h1M346 444h1M309 445h1M313 445h1M315 445h1M320 445h3M329 445h1M331 445h1M337 445h1M304 446h1M314 446h4M331 446h1M336 446h1M315 447h3M322 447h1M324 447h1M331 447h1M308 448h1M311 448h1M314 448h1M319 448h1M330 448h1M336 448h2M302 449h1M311 449h2M326 449h1M308 450h1M318 450h1M320 450h1M325 450h1M330 450h1M297 451h1M329 451h1M332 451h1M335 451h1M312 452h1M317 452h1M324 452h1M331 452h2M334 452h1M305 453h1M322 453h1M335 453h1M334 454h1M321 455h1M333 455h1M301 456h1M331 456h1M332 457h1M322 460h1M298 461h1M329 461h1M332 463h1M339 463h1M318 467h1"/>
<path transform="translate(0 .5)" stroke="rgb(85,100,255)" stroke-opacity="0.7" stroke-width="1" d="M314 402h1M316 402h2M321 402h1M309 403h4M320 403h2M323 403h1M306 404h1M308 404h1M323 404h1M325 404h1M335 404h2M304 405h3M325 405h1M334 405h1M336 405h1M302 406h6M334 406h1M336 406h1M302 407h2M323 407h1M333 407h1M336 407h2M303 408h1M305 408h1M322 408h1M334 408h1M336 408h1M303 409h2M319 409h3M306 410h1M308 410h5M315 410h3M310 411h1M334 416h1M336 416h1M332 417h1M334 417h2M334 418h2M331 419h2M337 419h2M330 421h2M339 421h1M329 422h1M339 422h1M328 423h1M339 423h1M328 424h2M339 424h1M339 425h1M328 426h2M340 426h1M328 427h1M340 427h1M328 428h1M340 428h1M310 429h1M328 429h1M310 430h1M313 430h1M340 430h1M309 431h1M312 431h3M316 431h1M319 431h1M311 432h5M317 432h2M321 432h1M329 432h1M340 432h1M310 433h1M312 433h2M315 433h5M327 433h1M339 433h1M307 434h1M309 434h7M317 434h1M319 434h1M328 434h2M338 434h2M308 435h1M310 435h8M319 435h3M328 435h2M338 435h1M309 436h6M316 436h1M318 436h2M321 436h2M328 436h1M339 436h1M308 437h6M315 437h2M318 437h1M320 437h1M337 437h2M308 438h3M313 438h1M316 438h2M320 438h3M330 438h2M337 438h2M309 439h3M313 439h1M315 439h1M317 439h1M319 439h4M330 439h2M337 439h1M310 440h2M313 440h2M317 440h2M330 440h2M336 440h1M310 441h1M313 441h1M316 441h2M319 441h2M322 441h1M332 441h1M310 442h1M313 442h1M315 442h2M336 442h1M313 443h2M332 443h2M315 444h1M317 444h1M332 444h1M336 444h1M336 445h1M332 446h2M335 446h1M333 447h3M333 448h3M332 449h1M333 450h2M334 451h1"/>
<path transform="translate(0 .5)" stroke="rgb(40,65,255)" stroke-opacity="0.95" stroke-width="1" d="M313 403h6M309 404h5M320 404h3M307 405h3M322 405h1M308 406h2M322 406h1M335 406h1M306 407h3M321 407h2M307 408h3M319 408h3M308 409h4M316 409h3M313 410h1M334 419h3M332 420h3M336 420h3M332 421h1M336 421h1M331 422h3M337 422h2M330 423h2M338 423h1M330 424h1M338 424h1M329 425h2M338 425h1M339 426h1M329 427h2M338 427h1M329 428h1M329 429h2M339 429h1M329 430h1M339 430h1M329 431h1M338 431h1M338 432h2M329 433h2M338 433h1M330 434h1M337 434h1M330 435h2M336 435h2M331 436h1M337 436h1M332 437h1M336 437h1M333 438h1M336 438h1M332 439h2M335 439h2M332 440h2M333 441h4M333 442h2M335 443h1M333 444h3M333 445h3M334 446h1"/>
<path transform="translate(0 .5)" stroke="rgb(20,90,255)" stroke-opacity="1" stroke-width="1" d="M318 404h2M310 405h1M320 405h2M310 406h1M319 406h1M321 406h1M320 407h1M310 408h1M316 408h2M312 409h4M335 420h1M333 421h3M335 422h1M331 424h1M337 424h1M330 426h1M338 426h1M330 428h1M338 428h1M338 429h1M330 430h1M338 430h1M330 431h1M337 431h1M330 432h1M331 433h1M337 433h1M331 434h1M336 434h1M332 435h1M332 436h1M335 436h2M333 437h1M334 438h2M334 439h1M334 440h2M335 442h1M334 443h1"/>
<path transform="translate(0 .5)" stroke="rgb(0,185,240)" stroke-opacity="1" stroke-width="1" d="M315 404h1M317 404h1M312 405h1M319 405h1M320 406h1M309 407h3M311 408h2M315 408h1M318 408h1M334 422h1M336 422h1M332 423h1M337 423h1M336 424h1M331 425h1M331 426h1M337 429h1M331 431h1M331 432h1M337 432h1M333 433h1M332 434h1M335 434h1M334 435h1M333 436h2M334 437h2"/>
<path transform="translate(0 .5)" stroke="rgb(30,225,70)" stroke-opacity="1" stroke-width="1" d="M314 404h1M316 404h1M311 405h1M313 405h6M311 406h4M318 406h1M312 407h8M313 408h2M333 423h4M332 424h1M334 424h2M332 425h3M336 425h2M332 426h1M337 426h1M331 427h2M337 427h1M331 428h2M337 428h1M331 429h3M331 430h3M336 430h2M332 431h1M332 432h5M332 433h1M334 433h3M333 434h2M333 435h1M335 435h1"/>
<path transform="translate(0 .5)" stroke="rgb(190,235,20)" stroke-opacity="1" stroke-width="1" d="M315 406h2M333 424h1M335 425h1M336 426h1M335 427h2M334 429h1M336 429h1M335 430h1M333 431h4"/>
<path transform="translate(0 .5)" stroke="rgb(255,170,0)" stroke-opacity="1" stroke-width="1" d="M317 406h1M335 426h1M333 428h1M336 428h1M335 429h1"/>
<path transform="translate(0 .5)" stroke="rgb(240,40,20)" stroke-opacity="1" stroke-width="1" d="M333 426h2M333 427h2M334 428h2M334 430h1"/>
</g>
<path stroke="rgb(40,65,255)" stroke-width="1" d="M313 470.6h1M314 470.6h1M316 470.6h1M317 470.6h1M318 470.6h1M321 470.6h1M322 470.6h1M324 470.6h1M326 470.6h1M327 470.6h1M328 470.6h1M329 470.6h1M330 470.6h1"/>
<path stroke="rgb(0,185,240)" stroke-width="1" d="M333 470.6h1"/>
<path stroke="rgb(30,225,70)" stroke-width="1" d="M334 470.6h1M335 470.6h1M336 470.6h1M338 470.6h1M339 470.6h1"/>
<path stroke="rgb(20,90,255)" stroke-width="1" d="M341 470.6h1"/>
<rect x="276.4" y="399.4" width="71.1" height="71.5" fill="none" stroke="#a0a0a0" stroke-width="1"/>
<rect x="294.5" y="399.6" width="33.2" height="12.9" fill="none" stroke="#707070" stroke-width="1"/>
<rect x="328.0" y="417.3" width="18.5" height="35.0" fill="none" stroke="#707070" stroke-width="1"/>
<path d="M274.6 470.5h1.8M275.5 466.6h0.9M275.5 464.2h0.9M275.5 462.6h0.9M275.5 461.3h0.9M275.5 460.4h0.9M275.5 459.6h0.9M275.5 459.0h0.9M275.5 458.4h0.9M275.5 457.9h0.9M274.6 457.4h1.8M275.5 453.4h0.9M275.5 451.1h0.9M275.5 449.5h0.9M275.5 448.2h0.9M275.5 447.3h0.9M275.5 446.5h0.9M275.5 445.8h0.9M275.5 445.3h0.9M275.5 444.8h0.9M274.6 444.3h1.8M275.5 440.3h0.9M275.5 438.0h0.9M275.5 436.4h0.9M275.5 435.1h0.9M275.5 434.2h0.9M275.5 433.4h0.9M275.5 432.7h0.9M275.5 432.2h0.9M275.5 431.7h0.9M274.6 431.1h1.8M275.5 427.2h0.9M275.5 424.8h0.9M275.5 423.3h0.9M275.5 422.0h0.9M275.5 421.0h0.9M275.5 420.2h0.9M275.5 419.6h0.9M275.5 419.1h0.9M275.5 418.5h0.9M274.6 418.0h1.8M275.5 414.1h0.9M275.5 411.7h0.9M275.5 410.1h0.9M275.5 408.8h0.9M275.5 407.9h0.9M275.5 407.1h0.9M275.5 406.5h0.9M275.5 405.9h0.9M275.5 405.4h0.9M274.6 404.9h1.8M275.5 401.0h0.9M276.7 470.9v1.8M280.6 470.9v0.9M282.9 470.9v0.9M284.4 470.9v0.9M285.7 470.9v0.9M286.6 470.9v0.9M287.4 470.9v0.9M288.1 470.9v0.9M288.6 470.9v0.9M289.1 470.9v0.9M289.6 470.9v1.8M293.5 470.9v0.9M295.8 470.9v0.9M297.3 470.9v0.9M298.6 470.9v0.9M299.5 470.9v0.9M300.3 470.9v0.9M301.0 470.9v0.9M301.5 470.9v0.9M302.0 470.9v0.9M302.5 470.9v1.8M306.4 470.9v0.9M308.7 470.9v0.9M310.3 470.9v0.9M311.5 470.9v0.9M312.4 470.9v0.9M313.2 470.9v0.9M313.9 470.9v0.9M314.4 470.9v0.9M314.9 470.9v0.9M315.4 470.9v1.8M319.3 470.9v0.9M321.6 470.9v0.9M323.2 470.9v0.9M324.4 470.9v0.9M325.4 470.9v0.9M326.1 470.9v0.9M326.8 470.9v0.9M327.3 470.9v0.9M327.8 470.9v0.9M328.3 470.9v1.8M332.2 470.9v0.9M334.5 470.9v0.9M336.1 470.9v0.9M337.4 470.9v0.9M338.3 470.9v0.9M339.0 470.9v0.9M339.7 470.9v0.9M340.2 470.9v0.9M340.7 470.9v0.9M341.2 470.9v1.8M345.1 470.9v0.9" stroke="#444" stroke-width="0.6" fill="none"/>
<g font-size="3.3" fill="#444" font-weight="bold" font-family="Liberation Sans, sans-serif"><text x="271.1" y="471.7" text-anchor="middle" transform="rotate(-45 271.1 470.7)">10<tspan dy="-1" font-size="2.2">0</tspan></text><text x="279.7" y="476.5" text-anchor="middle" transform="rotate(-45 279.7 475.5)">10<tspan dy="-1" font-size="2.2">0</tspan></text><text x="271.1" y="458.6" text-anchor="middle" transform="rotate(-45 271.1 457.6)">10<tspan dy="-1" font-size="2.2">1</tspan></text><text x="292.6" y="476.5" text-anchor="middle" transform="rotate(-45 292.6 475.5)">10<tspan dy="-1" font-size="2.2">1</tspan></text><text x="271.1" y="445.5" text-anchor="middle" transform="rotate(-45 271.1 444.5)">10<tspan dy="-1" font-size="2.2">2</tspan></text><text x="305.5" y="476.5" text-anchor="middle" transform="rotate(-45 305.5 475.5)">10<tspan dy="-1" font-size="2.2">2</tspan></text><text x="271.1" y="432.3" text-anchor="middle" transform="rotate(-45 271.1 431.3)">10<tspan dy="-1" font-size="2.2">3</tspan></text><text x="318.4" y="476.5" text-anchor="middle" transform="rotate(-45 318.4 475.5)">10<tspan dy="-1" font-size="2.2">3</tspan></text><text x="271.1" y="419.2" text-anchor="middle" transform="rotate(-45 271.1 418.2)">10<tspan dy="-1" font-size="2.2">4</tspan></text><text x="331.3" y="476.5" text-anchor="middle" transform="rotate(-45 331.3 475.5)">10<tspan dy="-1" font-size="2.2">4</tspan></text><text x="271.1" y="406.1" text-anchor="middle" transform="rotate(-45 271.1 405.1)">10<tspan dy="-1" font-size="2.2">5</tspan></text><text x="344.2" y="476.5" text-anchor="middle" transform="rotate(-45 344.2 475.5)">10<tspan dy="-1" font-size="2.2">5</tspan></text></g>
<text x="288.7" y="428.5" class="pct" textLength="20.4" lengthAdjust="spacingAndGlyphs">34.0</text>
<text x="308.4" y="464.0" class="pct" textLength="20.4" lengthAdjust="spacingAndGlyphs">56.8</text>
<g filter="url(#bl)">
<path transform="translate(0 .5)" stroke="rgb(125,125,255)" stroke-opacity="0.4" stroke-width="1" d="M409 400h1M416 400h2M422 400h1M398 401h1M400 401h1M403 401h2M407 401h1M410 401h2M413 401h1M416 401h2M419 401h1M428 401h1M393 402h1M402 402h1M416 402h5M423 402h2M430 402h2M398 403h3M419 403h1M396 404h1M421 404h1M426 404h1M430 404h2M395 405h1M397 405h1M431 405h2M390 406h2M397 406h1M422 406h2M425 406h1M431 406h3M396 407h1M425 407h1M393 408h1M423 408h1M425 408h1M392 409h1M395 409h1M418 409h1M424 409h1M426 409h1M430 409h1M387 410h1M390 410h1M392 410h1M396 410h3M417 410h1M419 410h1M425 410h1M428 410h1M430 410h1M394 411h2M398 411h1M403 411h1M405 411h1M415 411h1M418 411h1M426 411h3M392 412h1M395 412h1M401 412h1M405 412h1M409 412h1M421 412h1M425 412h1M427 412h1M432 412h1M398 413h1M409 413h1M411 413h1M415 413h1M424 413h1M428 413h1M395 414h2M401 414h1M419 414h1M426 414h3M433 414h1M436 414h1M396 415h1M412 415h1M427 415h2M430 415h1M436 415h1M389 416h1M400 416h1M423 416h1M427 416h1M432 416h1M421 417h1M424 417h1M434 417h1M408 418h1M436 418h1M421 419h1M423 419h1M434 419h2M397 420h1M401 420h1M403 420h1M433 420h1M435 420h1M406 421h1M436 421h1M407 422h1M410 422h1M415 422h1M420 422h1M435 422h1M405 423h1M417 423h1M391 424h1M403 424h1M410 424h1M413 424h2M379 425h1M401 425h1M407 425h1M413 425h1M419 425h3M436 425h1M396 426h1M401 426h1M404 426h1M407 426h3M413 426h1M420 426h1M393 427h1M398 427h1M400 427h2M403 427h1M407 427h1M409 427h1M412 427h1M414 427h1M436 427h1M394 428h1M403 428h1M405 428h1M408 428h1M416 428h2M419 428h1M438 428h1M386 429h1M397 429h1M404 429h2M413 429h1M416 429h3M435 429h1M437 429h1M439 429h1M400 430h1M404 430h1M415 430h1M403 431h1M415 431h2M436 431h1M394 432h1M402 432h1M419 432h1M435 432h1M403 433h1M417 433h1M436 433h1M389 434h1M397 434h1M399 434h1M402 434h1M419 434h1M434 434h1M399 435h1M402 435h1M420 435h1M398 436h2M401 436h1M420 436h1M433 436h2M382 437h1M400 437h2M395 438h1M398 438h2M401 438h1M419 438h1M432 438h1M432 439h1M394 440h1M417 440h1M419 440h1M423 440h1M431 440h1M375 441h1M396 441h1M399 441h1M417 441h1M419 441h1M432 441h1M388 442h1M401 442h2M419 442h2M424 442h1M431 442h1M401 443h2M404 443h1M412 443h1M415 443h1M418 443h3M432 443h1M402 444h1M406 444h1M408 444h3M414 444h1M416 444h1M418 444h1M421 444h1M424 444h1M413 445h3M417 445h1M419 445h1M431 445h1M438 445h1M411 446h2M416 446h1M430 446h1M408 447h1M413 447h1M418 447h1M420 447h1M402 448h1M405 448h2M408 448h1M410 448h2M416 448h1M418 448h1M407 449h1M413 449h1M425 449h2M396 450h1M407 450h1M410 450h1M416 450h1M420 450h1M404 451h1M426 451h3M414 452h1M428 452h1M407 453h1M424 454h1M413 455h1M419 455h1M427 455h1M429 455h1M425 456h1M415 459h1M416 461h1M395 469h1"/>
<path transform="translate(0 .5)" stroke="rgb(85,100,255)" stroke-opacity="0.7" stroke-width="1" d="M408 402h1M411 402h5M406 403h1M416 403h3M401 404h5M417 404h3M427 404h2M400 405h1M418 405h3M426 405h3M399 406h1M426 406h1M428 406h1M430 406h1M398 407h1M401 407h1M417 407h1M426 407h5M398 408h4M417 408h1M427 408h3M400 409h3M417 409h1M428 409h1M405 410h2M409 410h2M413 410h2M409 411h1M428 416h1M430 416h1M426 417h6M430 418h1M427 419h1M431 419h2M424 420h1M432 420h1M424 421h1M432 421h3M423 422h1M423 423h2M433 423h2M423 424h1M433 424h2M422 425h1M434 425h1M434 426h1M421 428h2M434 428h1M408 429h1M410 429h1M434 429h1M405 430h1M409 430h1M412 430h1M422 430h1M434 430h1M404 431h1M408 431h2M412 431h1M414 431h1M433 431h2M404 432h1M406 432h1M408 432h1M410 432h1M412 432h1M414 432h2M422 432h1M433 432h1M404 433h6M411 433h2M416 433h1M432 433h2M404 434h3M409 434h9M422 434h1M405 435h1M408 435h4M413 435h2M417 435h1M422 435h2M432 435h1M403 436h4M408 436h1M410 436h3M414 436h1M417 436h1M421 436h1M432 436h1M403 437h3M407 437h1M409 437h3M414 437h2M418 437h1M422 437h2M425 437h1M432 437h1M402 438h1M405 438h3M409 438h2M412 438h4M417 438h1M423 438h2M431 438h1M403 439h4M409 439h2M412 439h1M415 439h1M418 439h1M424 439h1M430 439h2M404 440h1M408 440h9M424 440h2M430 440h1M404 441h1M406 441h1M409 441h2M413 441h1M415 441h1M425 441h2M405 442h2M408 442h2M412 442h1M415 442h1M417 442h1M425 442h1M430 442h1M408 443h3M414 443h1M430 443h1M407 444h1M413 444h1M426 444h1M426 445h1M429 445h1M426 446h1M429 446h1M426 447h1M428 447h1M427 448h3M427 449h2M426 450h1"/>
<path transform="translate(0 .5)" stroke="rgb(40,65,255)" stroke-opacity="0.95" stroke-width="1" d="M407 403h9M406 404h2M414 404h3M402 405h3M416 405h2M402 406h2M416 406h3M402 407h3M416 407h1M402 408h4M415 408h2M403 409h2M406 409h2M409 409h4M414 409h1M408 410h1M428 419h3M425 420h2M428 420h3M425 421h1M427 421h1M429 421h3M424 422h2M432 422h1M431 423h2M424 424h1M432 424h1M423 425h2M432 425h2M423 426h2M432 426h2M433 427h1M423 428h1M433 428h1M423 429h1M432 429h2M423 430h1M432 430h2M423 431h1M432 431h1M423 432h2M432 432h1M423 433h1M431 433h1M423 434h2M431 434h2M424 435h2M430 435h1M407 436h1M424 436h3M430 436h2M426 437h1M429 437h2M425 438h3M430 438h1M426 439h2M429 439h1M426 440h4M426 442h4M427 443h3M427 444h3M428 445h1M427 446h1M427 447h1"/>
<path transform="translate(0 .5)" stroke="rgb(20,90,255)" stroke-opacity="1" stroke-width="1" d="M408 404h1M412 404h1M405 405h2M414 405h1M404 406h2M414 407h2M406 408h1M408 408h1M413 408h2M408 409h1M427 420h1M426 421h1M428 421h1M426 422h1M431 422h1M425 423h1M431 424h1M431 425h1M424 427h1M432 427h1M424 428h1M432 428h1M424 430h2M424 431h1M431 431h1M425 432h1M424 433h2M430 433h1M425 434h1M430 434h1M427 437h2M429 438h1M428 439h1M427 441h2"/>
<path transform="translate(0 .5)" stroke="rgb(0,185,240)" stroke-opacity="1" stroke-width="1" d="M409 404h3M413 404h1M415 405h1M415 406h1M413 407h1M411 408h2M427 422h4M426 423h1M430 423h1M425 424h2M425 425h1M431 428h1M424 429h1M431 430h1M431 432h1M426 434h2M429 434h1M426 435h2M427 436h3M428 438h1"/>
<path transform="translate(0 .5)" stroke="rgb(30,225,70)" stroke-opacity="1" stroke-width="1" d="M407 405h7M406 406h5M412 406h3M405 407h8M407 408h1M409 408h2M427 423h3M427 424h4M426 425h1M429 425h2M425 426h2M430 426h2M425 427h1M430 427h2M425 428h1M429 428h2M425 429h2M428 429h1M430 429h2M426 430h1M429 430h2M425 431h3M429 431h2M426 432h5M426 433h4M428 434h1M428 435h2"/>
<path transform="translate(0 .5)" stroke="rgb(190,235,20)" stroke-opacity="1" stroke-width="1" d="M411 406h1M426 427h1M427 429h1M427 430h1"/>
<path transform="translate(0 .5)" stroke="rgb(255,170,0)" stroke-opacity="1" stroke-width="1" d="M427 425h1M427 426h1M429 426h1M426 428h1M428 430h1M428 431h1"/>
<path transform="translate(0 .5)" stroke="rgb(240,40,20)" stroke-opacity="1" stroke-width="1" d="M428 425h1M428 426h1M427 427h3M427 428h2M429 429h1"/>
</g>
<path stroke="rgb(40,65,255)" stroke-width="1" d="M405 470.2h1M406 470.2h1M407 470.2h1M408 470.2h1M409 470.2h1M410 470.2h1M411 470.2h1M413 470.2h1M414 470.2h1M417 470.2h1M418 470.2h1M419 470.2h1M420 470.2h1M421 470.2h1M422 470.2h1M423 470.2h1"/>
<path stroke="rgb(20,90,255)" stroke-width="1" d="M426 470.2h1M435 470.2h1"/>
<path stroke="rgb(0,185,240)" stroke-width="1" d="M427 470.2h1M434 470.2h1"/>
<path stroke="rgb(30,225,70)" stroke-width="1" d="M428 470.2h1M433 470.2h1"/>
<path stroke="rgb(190,235,20)" stroke-width="1" d="M430 470.2h1"/>
<rect x="370.1" y="399.4" width="70.9" height="71.1" fill="none" stroke="#a0a0a0" stroke-width="1"/>
<rect x="388.4" y="399.6" width="33.0" height="12.9" fill="none" stroke="#707070" stroke-width="1"/>
<rect x="421.5" y="417.3" width="18.9" height="35.0" fill="none" stroke="#707070" stroke-width="1"/>
<path d="M368.3 470.1h1.8M369.2 466.2h0.9M369.2 463.8h0.9M369.2 462.3h0.9M369.2 461.0h0.9M369.2 460.1h0.9M369.2 459.3h0.9M369.2 458.6h0.9M369.2 458.1h0.9M369.2 457.6h0.9M368.3 457.1h1.8M369.2 453.1h0.9M369.2 450.8h0.9M369.2 449.2h0.9M369.2 447.9h0.9M369.2 447.0h0.9M369.2 446.2h0.9M369.2 445.6h0.9M369.2 445.1h0.9M369.2 444.5h0.9M368.3 444.0h1.8M369.2 440.1h0.9M369.2 437.7h0.9M369.2 436.2h0.9M369.2 434.9h0.9M369.2 434.0h0.9M369.2 433.2h0.9M369.2 432.5h0.9M369.2 432.0h0.9M369.2 431.5h0.9M368.3 431.0h1.8M369.2 427.0h0.9M369.2 424.7h0.9M369.2 423.1h0.9M369.2 421.8h0.9M369.2 420.9h0.9M369.2 420.1h0.9M369.2 419.5h0.9M369.2 419.0h0.9M369.2 418.4h0.9M368.3 417.9h1.8M369.2 414.0h0.9M369.2 411.7h0.9M369.2 410.1h0.9M369.2 408.8h0.9M369.2 407.9h0.9M369.2 407.1h0.9M369.2 406.4h0.9M369.2 405.9h0.9M369.2 405.4h0.9M368.3 404.9h1.8M369.2 401.0h0.9M370.4 470.5v1.8M374.3 470.5v0.9M376.6 470.5v0.9M378.1 470.5v0.9M379.4 470.5v0.9M380.3 470.5v0.9M381.1 470.5v0.9M381.7 470.5v0.9M382.2 470.5v0.9M382.8 470.5v0.9M383.3 470.5v1.8M387.1 470.5v0.9M389.4 470.5v0.9M391.0 470.5v0.9M392.3 470.5v0.9M393.2 470.5v0.9M393.9 470.5v0.9M394.6 470.5v0.9M395.1 470.5v0.9M395.6 470.5v0.9M396.1 470.5v1.8M400.0 470.5v0.9M402.3 470.5v0.9M403.9 470.5v0.9M405.1 470.5v0.9M406.0 470.5v0.9M406.8 470.5v0.9M407.5 470.5v0.9M408.0 470.5v0.9M408.5 470.5v0.9M409.0 470.5v1.8M412.9 470.5v0.9M415.2 470.5v0.9M416.7 470.5v0.9M418.0 470.5v0.9M418.9 470.5v0.9M419.7 470.5v0.9M420.3 470.5v0.9M420.8 470.5v0.9M421.4 470.5v0.9M421.9 470.5v1.8M425.7 470.5v0.9M428.1 470.5v0.9M429.6 470.5v0.9M430.9 470.5v0.9M431.8 470.5v0.9M432.6 470.5v0.9M433.2 470.5v0.9M433.7 470.5v0.9M434.2 470.5v0.9M434.7 470.5v1.8M438.6 470.5v0.9" stroke="#444" stroke-width="0.6" fill="none"/>
<g font-size="3.3" fill="#444" font-weight="bold" font-family="Liberation Sans, sans-serif"><text x="364.8" y="471.3" text-anchor="middle" transform="rotate(-45 364.8 470.3)">10<tspan dy="-1" font-size="2.2">0</tspan></text><text x="373.4" y="476.1" text-anchor="middle" transform="rotate(-45 373.4 475.1)">10<tspan dy="-1" font-size="2.2">0</tspan></text><text x="364.8" y="458.3" text-anchor="middle" transform="rotate(-45 364.8 457.3)">10<tspan dy="-1" font-size="2.2">1</tspan></text><text x="386.3" y="476.1" text-anchor="middle" transform="rotate(-45 386.3 475.1)">10<tspan dy="-1" font-size="2.2">1</tspan></text><text x="364.8" y="445.2" text-anchor="middle" transform="rotate(-45 364.8 444.2)">10<tspan dy="-1" font-size="2.2">2</tspan></text><text x="399.1" y="476.1" text-anchor="middle" transform="rotate(-45 399.1 475.1)">10<tspan dy="-1" font-size="2.2">2</tspan></text><text x="364.8" y="432.2" text-anchor="middle" transform="rotate(-45 364.8 431.2)">10<tspan dy="-1" font-size="2.2">3</tspan></text><text x="412.0" y="476.1" text-anchor="middle" transform="rotate(-45 412.0 475.1)">10<tspan dy="-1" font-size="2.2">3</tspan></text><text x="364.8" y="419.1" text-anchor="middle" transform="rotate(-45 364.8 418.1)">10<tspan dy="-1" font-size="2.2">4</tspan></text><text x="424.9" y="476.1" text-anchor="middle" transform="rotate(-45 424.9 475.1)">10<tspan dy="-1" font-size="2.2">4</tspan></text><text x="364.8" y="406.1" text-anchor="middle" transform="rotate(-45 364.8 405.1)">10<tspan dy="-1" font-size="2.2">5</tspan></text><text x="437.7" y="476.1" text-anchor="middle" transform="rotate(-45 437.7 475.1)">10<tspan dy="-1" font-size="2.2">5</tspan></text></g>
<text x="387.0" y="429.4" class="pct" textLength="20.4" lengthAdjust="spacingAndGlyphs">34.3</text>
<text x="406.5" y="464.9" class="pct" textLength="20.4" lengthAdjust="spacingAndGlyphs">56.2</text>
<text x="223.2" y="479.5" class="hdr" style="font-size:14.2px" textLength="26.7" lengthAdjust="spacingAndGlyphs">CD8</text>
<text x="259.6" y="510.2" class="hdr" style="font-size:14.2px" textLength="26.7" lengthAdjust="spacingAndGlyphs">CD4</text>
<path d="M237 506.3V490.5M237 504.8H246.5" stroke="#000" stroke-width="3" fill="none"/>
<path d="M232.7 491.5L237 484L241.3 491.5Z M246 500.8L253.2 505L246 509.2Z" fill="#000"/>
<text x="106.7" y="531.9" class="ttl" textLength="60.8" lengthAdjust="spacingAndGlyphs">CD8+ T cell</text>
<text x="374.4" y="533.9" class="ttl" textLength="61.5" lengthAdjust="spacingAndGlyphs">CD4+ T cell</text>
<text class="yl" transform="translate(14.9 642.0) rotate(-90)" textLength="81.8" lengthAdjust="spacingAndGlyphs">% of CD8+ T cells</text>
<text class="yl" transform="translate(283.9 645.3) rotate(-90)" textLength="83.6" lengthAdjust="spacingAndGlyphs">% of CD4+ T cells</text>
<rect x="57.2" y="609.5" width="10.8" height="43.0" fill="url(#hatch)" stroke="#000" stroke-width="1"/>
<rect x="68.0" y="583.0" width="10.9" height="69.5" fill="#000"/>
<path d="M62.6 599.7V619.3M60.4 599.7h4.4M60.4 619.3h4.4" stroke="#6e6e6e" stroke-width="1" fill="none"/>
<path d="M73.5 572.7V593.3M71.2 572.7h4.4M71.2 593.3h4.4" stroke="#6e6e6e" stroke-width="1" fill="none"/>
<rect x="102.8" y="579.4" width="10.8" height="73.1" fill="url(#hatch)" stroke="#000" stroke-width="1"/>
<rect x="113.6" y="585.0" width="10.9" height="67.5" fill="#000"/>
<path d="M108.1 573.7V585.0M105.9 573.7h4.4M105.9 585.0h4.4" stroke="#6e6e6e" stroke-width="1" fill="none"/>
<path d="M119.0 582.5V587.6M116.8 582.5h4.4M116.8 587.6h4.4" stroke="#6e6e6e" stroke-width="1" fill="none"/>
<rect x="148.7" y="569.3" width="10.8" height="83.2" fill="url(#hatch)" stroke="#000" stroke-width="1"/>
<rect x="159.5" y="565.2" width="10.9" height="87.3" fill="#000"/>
<path d="M154.0 567.1V571.5M151.8 567.1h4.4M151.8 571.5h4.4" stroke="#6e6e6e" stroke-width="1" fill="none"/>
<path d="M164.9 563.3V567.1M162.8 563.3h4.4M162.8 567.1h4.4" stroke="#6e6e6e" stroke-width="1" fill="none"/>
<rect x="194.4" y="590.4" width="10.8" height="62.1" fill="url(#hatch)" stroke="#000" stroke-width="1"/>
<rect x="205.2" y="587.1" width="10.9" height="65.4" fill="#000"/>
<path d="M199.7 588.4V592.5M197.5 588.4h4.4M197.5 592.5h4.4" stroke="#6e6e6e" stroke-width="1" fill="none"/>
<path d="M210.6 582.6V591.6M208.4 582.6h4.4M208.4 591.6h4.4" stroke="#6e6e6e" stroke-width="1" fill="none"/>
<rect x="240.4" y="568.0" width="10.8" height="84.5" fill="url(#hatch)" stroke="#000" stroke-width="1"/>
<rect x="251.2" y="560.1" width="10.9" height="92.4" fill="#000"/>
<path d="M245.7 565.2V570.9M243.5 565.2h4.4M243.5 570.9h4.4" stroke="#6e6e6e" stroke-width="1" fill="none"/>
<path d="M256.6 559.3V560.8M254.4 559.3h4.4M254.4 560.8h4.4" stroke="#6e6e6e" stroke-width="1" fill="none"/>
<path d="M45.3 549.5V652.5" stroke="#7a7a7a" stroke-width="1.3" fill="none"/>
<path d="M41.6 652.5H44.9M41.6 626.8H44.9M41.6 601.0H44.9M41.6 575.2H44.9M41.6 549.5H44.9" stroke="#3c3c3c" stroke-width="0.9" fill="none"/>
<path d="M41.6 652.5H273.6M68.0 652.5v2.6M113.6 652.5v2.6M159.5 652.5v2.6M205.2 652.5v2.6M251.2 652.5v2.6M273.6 652.5v2.6" stroke="#3a3a3a" stroke-width="1" fill="none"/>
<text x="33.8" y="655.9" class="tl" text-anchor="end">0</text>
<text x="33.8" y="630.1" class="tl" text-anchor="end">10</text>
<text x="33.8" y="604.4" class="tl" text-anchor="end">20</text>
<text x="33.8" y="578.6" class="tl" text-anchor="end">30</text>
<text x="33.8" y="552.9" class="tl" text-anchor="end">40</text>
<text x="60.7" y="671.3" class="xl" textLength="14.6" lengthAdjust="spacingAndGlyphs">TM</text>
<text x="107.5" y="671.3" class="xl" textLength="12.2" lengthAdjust="spacingAndGlyphs">SP</text>
<text x="153.4" y="671.3" class="xl" textLength="12.2" lengthAdjust="spacingAndGlyphs">PB</text>
<text x="196.9" y="671.3" class="xl" textLength="16.6" lengthAdjust="spacingAndGlyphs">PLN</text>
<text x="237.6" y="671.3" class="xl" textLength="27.2" lengthAdjust="spacingAndGlyphs">SMLN</text>
<text x="73.7" y="568.0" class="star" text-anchor="middle">*</text>
<text x="164.9" y="557.7" class="star" text-anchor="middle">*</text>
<text x="254.0" y="558.1" class="star" text-anchor="middle">*</text><text x="260.2" y="558.1" class="star" text-anchor="middle">*</text>
<rect x="324.8" y="618.2" width="10.4" height="36.2" fill="url(#hatch)" stroke="#000" stroke-width="1"/>
<rect x="335.2" y="589.8" width="11.3" height="64.6" fill="#000"/>
<path d="M329.9 614.5V621.9M327.8 614.5h4.4M327.8 621.9h4.4" stroke="#6e6e6e" stroke-width="1" fill="none"/>
<path d="M340.8 581.4V598.1M338.6 581.4h4.4M338.6 598.1h4.4" stroke="#6e6e6e" stroke-width="1" fill="none"/>
<rect x="371.3" y="583.4" width="10.4" height="71.0" fill="url(#hatch)" stroke="#000" stroke-width="1"/>
<rect x="381.7" y="580.8" width="11.3" height="73.6" fill="#000"/>
<path d="M376.4 581.8V584.9M374.2 581.8h4.4M374.2 584.9h4.4" stroke="#6e6e6e" stroke-width="1" fill="none"/>
<path d="M387.3 579.3V582.3M385.1 579.3h4.4M385.1 582.3h4.4" stroke="#6e6e6e" stroke-width="1" fill="none"/>
<rect x="416.8" y="588.1" width="10.4" height="66.3" fill="url(#hatch)" stroke="#000" stroke-width="1"/>
<rect x="427.2" y="583.4" width="11.3" height="71.0" fill="#000"/>
<path d="M421.9 587.6V588.6M419.8 587.6h4.4M419.8 588.6h4.4" stroke="#6e6e6e" stroke-width="1" fill="none"/>
<path d="M432.8 578.2V588.5M430.6 578.2h4.4M430.6 588.5h4.4" stroke="#6e6e6e" stroke-width="1" fill="none"/>
<rect x="462.2" y="566.8" width="10.4" height="87.6" fill="url(#hatch)" stroke="#000" stroke-width="1"/>
<rect x="472.6" y="564.5" width="11.3" height="89.9" fill="#000"/>
<path d="M467.4 564.0V569.7M465.2 564.0h4.4M465.2 569.7h4.4" stroke="#6e6e6e" stroke-width="1" fill="none"/>
<path d="M478.2 562.6V566.5M476.1 562.6h4.4M476.1 566.5h4.4" stroke="#6e6e6e" stroke-width="1" fill="none"/>
<rect x="507.9" y="573.2" width="10.4" height="81.2" fill="url(#hatch)" stroke="#000" stroke-width="1"/>
<rect x="518.3" y="575.8" width="11.3" height="78.6" fill="#000"/>
<path d="M513.0 570.4V576.1M510.8 570.4h4.4M510.8 576.1h4.4" stroke="#6e6e6e" stroke-width="1" fill="none"/>
<path d="M523.9 575.3V576.3M521.7 575.3h4.4M521.7 576.3h4.4" stroke="#6e6e6e" stroke-width="1" fill="none"/>
<path d="M313.0 552.0V654.4" stroke="#7a7a7a" stroke-width="1.3" fill="none"/>
<path d="M309.3 654.4H312.6M309.3 641.6H312.6M309.3 628.8H312.6M309.3 616.0H312.6M309.3 603.2H312.6M309.3 590.4H312.6M309.3 577.6H312.6M309.3 564.8H312.6M309.3 552.0H312.6" stroke="#3c3c3c" stroke-width="0.9" fill="none"/>
<path d="M309.3 654.4H540.9M335.2 654.4v2.6M381.7 654.4v2.6M427.2 654.4v2.6M472.6 654.4v2.6M518.3 654.4v2.6M540.9 654.4v2.6" stroke="#3a3a3a" stroke-width="1" fill="none"/>
<text x="301.2" y="657.8" class="tl" text-anchor="end">0</text>
<text x="301.2" y="645.0" class="tl" text-anchor="end">10</text>
<text x="301.2" y="632.2" class="tl" text-anchor="end">20</text>
<text x="301.2" y="619.4" class="tl" text-anchor="end">30</text>
<text x="301.2" y="606.6" class="tl" text-anchor="end">40</text>
<text x="301.2" y="593.8" class="tl" text-anchor="end">50</text>
<text x="301.2" y="581.0" class="tl" text-anchor="end">60</text>
<text x="301.2" y="568.2" class="tl" text-anchor="end">70</text>
<text x="301.2" y="555.4" class="tl" text-anchor="end">80</text>
<text x="327.9" y="673.1" class="xl" textLength="14.6" lengthAdjust="spacingAndGlyphs">TM</text>
<text x="375.6" y="673.1" class="xl" textLength="12.2" lengthAdjust="spacingAndGlyphs">SP</text>
<text x="421.1" y="673.1" class="xl" textLength="12.2" lengthAdjust="spacingAndGlyphs">PB</text>
<text x="464.3" y="673.1" class="xl" textLength="16.6" lengthAdjust="spacingAndGlyphs">PLN</text>
<text x="504.7" y="673.1" class="xl" textLength="27.2" lengthAdjust="spacingAndGlyphs">SMLN</text>
<text x="338.4" y="577.3" class="star" text-anchor="middle">*</text><text x="344.6" y="577.3" class="star" text-anchor="middle">*</text>
<rect x="216.4" y="684.3" width="7.6" height="7.6" fill="url(#hatch)" stroke="#000" stroke-width="0.9"/>
<text x="228.9" y="692.8" class="leg" textLength="48.5" lengthAdjust="spacingAndGlyphs">control</text>
<rect x="290.1" y="684.0" width="9.5" height="8.4" fill="#000"/>
<text x="304.0" y="692.8" class="leg" textLength="26.3" lengthAdjust="spacingAndGlyphs">SSO</text>
<g class="pv">
<text x="425.9" y="726.7">*</text>
<text x="429.6" y="726.7" font-style="italic" font-size="9px">P</text>
<text x="437.4" y="726.7" textLength="34.8" lengthAdjust="spacingAndGlyphs">&lt;0.05</text>
<text x="482.1" y="726.7" textLength="7.2" lengthAdjust="spacingAndGlyphs">**</text>
<text x="490.0" y="726.7" font-style="italic" font-size="9px">P</text>
<text x="497.4" y="726.7" textLength="35.9" lengthAdjust="spacingAndGlyphs">&lt;0.01</text>
</g>
<text x="251.0" y="755.7" class="fa" textLength="17.2" lengthAdjust="spacingAndGlyphs">(A)</text>
</g>
</svg>
</body></html>
